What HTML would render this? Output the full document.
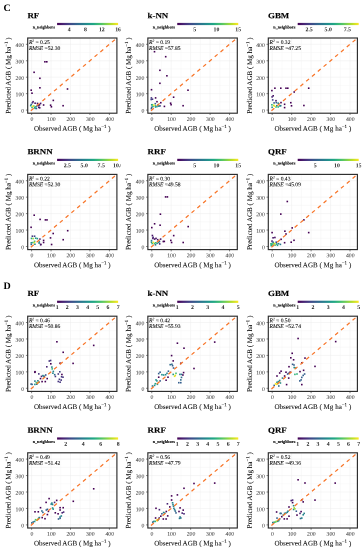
<!DOCTYPE html>
<html><head><meta charset="utf-8"><style>
html,body{margin:0;padding:0;background:#fff;}
svg{display:block;will-change:transform;filter:blur(0.25px);}
</style></head><body>
<svg width="362" height="550" viewBox="0 0 362 550">
<defs><linearGradient id="vir" x1="0" x2="1" y1="0" y2="0"><stop offset="0.0" stop-color="#440154"/><stop offset="0.1" stop-color="#482475"/><stop offset="0.2" stop-color="#414487"/><stop offset="0.3" stop-color="#355F8D"/><stop offset="0.4" stop-color="#2A788E"/><stop offset="0.5" stop-color="#21918C"/><stop offset="0.6" stop-color="#22A884"/><stop offset="0.7" stop-color="#44BF70"/><stop offset="0.8" stop-color="#7AD151"/><stop offset="0.9" stop-color="#BBDF27"/><stop offset="1.0" stop-color="#FDE725"/></linearGradient></defs>
<rect width="362" height="550" fill="#fff"/>
<g transform="rotate(0 181 275)">
<text font-family="Liberation Serif" font-size="10" font-weight="bold" transform="translate(3.60,10.90) rotate(0.05) ">C</text>
<text font-family="Liberation Serif" font-size="10" font-weight="bold" transform="translate(3.40,289.10) rotate(0.05) ">D</text>
<g stroke="#ececec" stroke-width="0.5"><line x1="31.60" y1="38.00" x2="31.60" y2="113.20"/><line x1="27.70" y1="110.10" x2="116.90" y2="110.10"/><line x1="51.05" y1="38.00" x2="51.05" y2="113.20"/><line x1="27.70" y1="93.65" x2="116.90" y2="93.65"/><line x1="70.50" y1="38.00" x2="70.50" y2="113.20"/><line x1="27.70" y1="77.20" x2="116.90" y2="77.20"/><line x1="89.95" y1="38.00" x2="89.95" y2="113.20"/><line x1="27.70" y1="60.75" x2="116.90" y2="60.75"/><line x1="109.40" y1="38.00" x2="109.40" y2="113.20"/><line x1="27.70" y1="44.30" x2="116.90" y2="44.30"/></g><g stroke="#f4f4f4" stroke-width="0.45"><line x1="41.32" y1="38.00" x2="41.32" y2="113.20"/><line x1="27.70" y1="101.88" x2="116.90" y2="101.88"/><line x1="60.77" y1="38.00" x2="60.77" y2="113.20"/><line x1="27.70" y1="85.42" x2="116.90" y2="85.42"/><line x1="80.22" y1="38.00" x2="80.22" y2="113.20"/><line x1="27.70" y1="68.97" x2="116.90" y2="68.97"/><line x1="99.67" y1="38.00" x2="99.67" y2="113.20"/><line x1="27.70" y1="52.52" x2="116.90" y2="52.52"/></g><rect x="44.10" y="61.00" width="1.6" height="1.6" fill="#440154"/><rect x="46.00" y="61.00" width="1.6" height="1.6" fill="#440154"/><rect x="33.30" y="71.50" width="1.6" height="1.6" fill="#440154"/><rect x="39.10" y="77.50" width="1.6" height="1.6" fill="#440154"/><rect x="39.10" y="87.00" width="1.6" height="1.6" fill="#440154"/><rect x="30.40" y="89.40" width="1.6" height="1.6" fill="#440154"/><rect x="31.20" y="92.40" width="1.6" height="1.6" fill="#440154"/><rect x="66.70" y="88.20" width="1.6" height="1.6" fill="#440154"/><rect x="52.50" y="99.60" width="1.6" height="1.6" fill="#440154"/><rect x="42.80" y="104.20" width="1.6" height="1.6" fill="#440154"/><rect x="49.80" y="104.40" width="1.6" height="1.6" fill="#440154"/><rect x="50.60" y="106.00" width="1.6" height="1.6" fill="#440154"/><rect x="62.30" y="104.90" width="1.6" height="1.6" fill="#440154"/><rect x="32.30" y="100.90" width="1.6" height="1.6" fill="#461264"/><rect x="31.60" y="102.00" width="1.6" height="1.6" fill="#44347e"/><rect x="34.30" y="102.40" width="1.6" height="1.6" fill="#461264"/><rect x="36.70" y="102.60" width="1.6" height="1.6" fill="#461264"/><rect x="39.80" y="102.60" width="1.6" height="1.6" fill="#461264"/><rect x="30.50" y="103.70" width="1.6" height="1.6" fill="#355f8d"/><rect x="29.90" y="104.80" width="1.6" height="1.6" fill="#21918c"/><rect x="33.00" y="105.20" width="1.6" height="1.6" fill="#7ad151"/><rect x="31.20" y="106.60" width="1.6" height="1.6" fill="#28ac80"/><rect x="33.80" y="106.60" width="1.6" height="1.6" fill="#33b37a"/><rect x="35.20" y="105.90" width="1.6" height="1.6" fill="#21918c"/><rect x="36.50" y="104.80" width="1.6" height="1.6" fill="#44347e"/><rect x="38.00" y="104.80" width="1.6" height="1.6" fill="#44347e"/><rect x="38.70" y="104.00" width="1.6" height="1.6" fill="#461264"/><rect x="38.00" y="106.60" width="1.6" height="1.6" fill="#461264"/><rect x="38.90" y="107.00" width="1.6" height="1.6" fill="#461264"/><rect x="35.60" y="107.70" width="1.6" height="1.6" fill="#355f8d"/><rect x="34.30" y="107.50" width="1.6" height="1.6" fill="#21918c"/><rect x="31.80" y="105.50" width="1.6" height="1.6" fill="#FDE725"/><clipPath id="cp0"><rect x="27.70" y="38.00" width="89.20" height="75.20"/></clipPath><line clip-path="url(#cp0)" x1="27.70" y1="113.40" x2="116.90" y2="37.96" stroke="#F8762A" stroke-width="1.25" stroke-dasharray="3.8 3.79" stroke-dashoffset="3.49"/><rect x="27.70" y="38.00" width="89.20" height="75.20" fill="none" stroke="#2b2b2b" stroke-width="1.15"/><g stroke="#333" stroke-width="0.6"><line x1="31.60" y1="113.20" x2="31.60" y2="115.00"/><line x1="25.90" y1="110.10" x2="27.70" y2="110.10"/><line x1="51.05" y1="113.20" x2="51.05" y2="115.00"/><line x1="25.90" y1="93.65" x2="27.70" y2="93.65"/><line x1="70.50" y1="113.20" x2="70.50" y2="115.00"/><line x1="25.90" y1="77.20" x2="27.70" y2="77.20"/><line x1="89.95" y1="113.20" x2="89.95" y2="115.00"/><line x1="25.90" y1="60.75" x2="27.70" y2="60.75"/><line x1="109.40" y1="113.20" x2="109.40" y2="115.00"/><line x1="25.90" y1="44.30" x2="27.70" y2="44.30"/></g><g font-family="Liberation Serif" font-size="5.75" fill="#444" stroke="#444" stroke-width="0.05"><text transform="translate(31.90,120.90) rotate(0.05) " text-anchor="middle">0</text><text transform="translate(24.20,112.80) rotate(0.05) " text-anchor="end">0</text><text transform="translate(51.35,120.90) rotate(0.05) " text-anchor="middle">100</text><text transform="translate(24.20,96.35) rotate(0.05) " text-anchor="end">100</text><text transform="translate(70.80,120.90) rotate(0.05) " text-anchor="middle">200</text><text transform="translate(24.20,79.90) rotate(0.05) " text-anchor="end">200</text><text transform="translate(90.25,120.90) rotate(0.05) " text-anchor="middle">300</text><text transform="translate(24.20,63.45) rotate(0.05) " text-anchor="end">300</text><text transform="translate(109.70,120.90) rotate(0.05) " text-anchor="middle">400</text><text transform="translate(24.20,47.00) rotate(0.05) " text-anchor="end">400</text></g><text font-family="Liberation Serif" font-size="7.05" transform="translate(72.30,130.80) rotate(0.05) scale(1,1.0)" text-anchor="middle" fill="#000" stroke="#000" stroke-width="0.05">Observed AGB ( Mg ha<tspan font-size="5" dy="-2.8">&#8722;1</tspan><tspan dy="2.8"> )</tspan></text><text font-family="Liberation Serif" font-size="7.05" transform="translate(10.50,75.50) rotate(-89.95) scale(1,1.0)" text-anchor="middle" fill="#000" stroke="#000" stroke-width="0.05">Predicted AGB ( Mg ha<tspan font-size="5" dy="-2.8">&#8722;1</tspan><tspan dy="2.8"> )</tspan></text><text font-family="Liberation Serif" font-size="5.6" font-style="italic" transform="translate(28.90,44.10) rotate(0.05) " fill="#000" stroke="#000" stroke-width="0.06">R<tspan font-size="3.6" dy="-2.0">2</tspan><tspan font-style="normal" dy="2.0"> = 0.25</tspan></text><text font-family="Liberation Serif" font-size="5.6" transform="translate(28.90,49.90) rotate(0.05) " fill="#000" stroke="#000" stroke-width="0.06"><tspan font-style="italic">RMSE</tspan> =52.30</text><text font-family="Liberation Serif" font-size="8.4" font-weight="bold" transform="translate(27.40,18.30) rotate(0.05) scale(1.06,0.95)" fill="#000" stroke="#000" stroke-width="0.15">RF</text><text font-family="Liberation Serif" font-size="4.2" font-weight="bold" transform="translate(32.70,28.60) rotate(0.05) " fill="#000" stroke="#000" stroke-width="0.1">n_neighbors</text><rect x="57.10" y="22.90" width="61.00" height="2.2" fill="url(#vir)"/><clipPath id="lc0"><rect x="27.70" y="26.00" width="93" height="8"/></clipPath><g clip-path="url(#lc0)" font-family="Liberation Serif" font-size="5.8" font-weight="bold" fill="#222"><text transform="translate(69.30,31.30) rotate(0.05) " text-anchor="middle">4</text><text transform="translate(85.57,31.30) rotate(0.05) " text-anchor="middle">8</text><text transform="translate(101.83,31.30) rotate(0.05) " text-anchor="middle">12</text><text transform="translate(118.10,31.30) rotate(0.05) " text-anchor="middle">16</text></g><g stroke="#ececec" stroke-width="0.5"><line x1="151.75" y1="38.00" x2="151.75" y2="113.20"/><line x1="147.85" y1="110.10" x2="237.30" y2="110.10"/><line x1="171.20" y1="38.00" x2="171.20" y2="113.20"/><line x1="147.85" y1="93.65" x2="237.30" y2="93.65"/><line x1="190.65" y1="38.00" x2="190.65" y2="113.20"/><line x1="147.85" y1="77.20" x2="237.30" y2="77.20"/><line x1="210.10" y1="38.00" x2="210.10" y2="113.20"/><line x1="147.85" y1="60.75" x2="237.30" y2="60.75"/><line x1="229.55" y1="38.00" x2="229.55" y2="113.20"/><line x1="147.85" y1="44.30" x2="237.30" y2="44.30"/></g><g stroke="#f4f4f4" stroke-width="0.45"><line x1="161.47" y1="38.00" x2="161.47" y2="113.20"/><line x1="147.85" y1="101.88" x2="237.30" y2="101.88"/><line x1="180.93" y1="38.00" x2="180.93" y2="113.20"/><line x1="147.85" y1="85.42" x2="237.30" y2="85.42"/><line x1="200.38" y1="38.00" x2="200.38" y2="113.20"/><line x1="147.85" y1="68.97" x2="237.30" y2="68.97"/><line x1="219.82" y1="38.00" x2="219.82" y2="113.20"/><line x1="147.85" y1="52.52" x2="237.30" y2="52.52"/></g><rect x="153.70" y="50.90" width="1.6" height="1.6" fill="#440154"/><rect x="164.90" y="55.90" width="1.6" height="1.6" fill="#440154"/><rect x="159.10" y="69.50" width="1.6" height="1.6" fill="#440154"/><rect x="166.10" y="75.00" width="1.6" height="1.6" fill="#440154"/><rect x="159.10" y="82.50" width="1.6" height="1.6" fill="#440154"/><rect x="150.70" y="88.90" width="1.6" height="1.6" fill="#440154"/><rect x="187.20" y="89.40" width="1.6" height="1.6" fill="#440154"/><rect x="172.80" y="96.40" width="1.6" height="1.6" fill="#440154"/><rect x="154.80" y="97.10" width="1.6" height="1.6" fill="#440154"/><rect x="169.80" y="102.40" width="1.6" height="1.6" fill="#440154"/><rect x="170.30" y="103.90" width="1.6" height="1.6" fill="#440154"/><rect x="182.30" y="104.90" width="1.6" height="1.6" fill="#440154"/><rect x="163.60" y="105.60" width="1.6" height="1.6" fill="#440154"/><rect x="156.20" y="100.90" width="1.6" height="1.6" fill="#440154"/><rect x="160.00" y="101.90" width="1.6" height="1.6" fill="#440154"/><rect x="150.60" y="97.10" width="1.6" height="1.6" fill="#44347e"/><rect x="151.70" y="98.40" width="1.6" height="1.6" fill="#44347e"/><rect x="150.40" y="98.70" width="1.6" height="1.6" fill="#414487"/><rect x="154.50" y="102.90" width="1.6" height="1.6" fill="#355f8d"/><rect x="150.90" y="104.00" width="1.6" height="1.6" fill="#21918c"/><rect x="151.70" y="103.90" width="1.6" height="1.6" fill="#44bf70"/><rect x="154.50" y="105.10" width="1.6" height="1.6" fill="#44bf70"/><rect x="154.80" y="106.20" width="1.6" height="1.6" fill="#21918c"/><rect x="150.90" y="106.50" width="1.6" height="1.6" fill="#355f8d"/><rect x="157.20" y="104.20" width="1.6" height="1.6" fill="#21918c"/><rect x="159.20" y="105.10" width="1.6" height="1.6" fill="#414487"/><rect x="158.10" y="105.40" width="1.6" height="1.6" fill="#25848d"/><rect x="150.60" y="107.80" width="1.6" height="1.6" fill="#355f8d"/><rect x="152.20" y="105.70" width="1.6" height="1.6" fill="#22a884"/><rect x="156.20" y="105.70" width="1.6" height="1.6" fill="#219c88"/><rect x="153.10" y="104.50" width="1.6" height="1.6" fill="#FDE725"/><clipPath id="cp1"><rect x="147.85" y="38.00" width="89.45" height="75.20"/></clipPath><line clip-path="url(#cp1)" x1="147.85" y1="113.40" x2="237.30" y2="37.75" stroke="#F8762A" stroke-width="1.25" stroke-dasharray="3.8 3.79" stroke-dashoffset="3.49"/><rect x="147.85" y="38.00" width="89.45" height="75.20" fill="none" stroke="#2b2b2b" stroke-width="1.15"/><g stroke="#333" stroke-width="0.6"><line x1="151.75" y1="113.20" x2="151.75" y2="115.00"/><line x1="146.05" y1="110.10" x2="147.85" y2="110.10"/><line x1="171.20" y1="113.20" x2="171.20" y2="115.00"/><line x1="146.05" y1="93.65" x2="147.85" y2="93.65"/><line x1="190.65" y1="113.20" x2="190.65" y2="115.00"/><line x1="146.05" y1="77.20" x2="147.85" y2="77.20"/><line x1="210.10" y1="113.20" x2="210.10" y2="115.00"/><line x1="146.05" y1="60.75" x2="147.85" y2="60.75"/><line x1="229.55" y1="113.20" x2="229.55" y2="115.00"/><line x1="146.05" y1="44.30" x2="147.85" y2="44.30"/></g><g font-family="Liberation Serif" font-size="5.75" fill="#444" stroke="#444" stroke-width="0.05"><text transform="translate(152.05,120.90) rotate(0.05) " text-anchor="middle">0</text><text transform="translate(144.35,112.80) rotate(0.05) " text-anchor="end">0</text><text transform="translate(171.50,120.90) rotate(0.05) " text-anchor="middle">100</text><text transform="translate(144.35,96.35) rotate(0.05) " text-anchor="end">100</text><text transform="translate(190.95,120.90) rotate(0.05) " text-anchor="middle">200</text><text transform="translate(144.35,79.90) rotate(0.05) " text-anchor="end">200</text><text transform="translate(210.40,120.90) rotate(0.05) " text-anchor="middle">300</text><text transform="translate(144.35,63.45) rotate(0.05) " text-anchor="end">300</text><text transform="translate(229.85,120.90) rotate(0.05) " text-anchor="middle">400</text><text transform="translate(144.35,47.00) rotate(0.05) " text-anchor="end">400</text></g><text font-family="Liberation Serif" font-size="7.05" transform="translate(192.57,130.80) rotate(0.05) scale(1,1.0)" text-anchor="middle" fill="#000" stroke="#000" stroke-width="0.05">Observed AGB ( Mg ha<tspan font-size="5" dy="-2.8">&#8722;1</tspan><tspan dy="2.8"> )</tspan></text><text font-family="Liberation Serif" font-size="7.05" transform="translate(130.65,75.50) rotate(-89.95) scale(1,1.0)" text-anchor="middle" fill="#000" stroke="#000" stroke-width="0.05">Predicted AGB ( Mg ha<tspan font-size="5" dy="-2.8">&#8722;1</tspan><tspan dy="2.8"> )</tspan></text><text font-family="Liberation Serif" font-size="5.6" font-style="italic" transform="translate(149.05,44.10) rotate(0.05) " fill="#000" stroke="#000" stroke-width="0.06">R<tspan font-size="3.6" dy="-2.0">2</tspan><tspan font-style="normal" dy="2.0"> = 0.19</tspan></text><text font-family="Liberation Serif" font-size="5.6" transform="translate(149.05,49.90) rotate(0.05) " fill="#000" stroke="#000" stroke-width="0.06"><tspan font-style="italic">RMSE</tspan> =57.85</text><text font-family="Liberation Serif" font-size="8.4" font-weight="bold" transform="translate(147.55,18.30) rotate(0.05) scale(1.06,0.95)" fill="#000" stroke="#000" stroke-width="0.15">k-NN</text><text font-family="Liberation Serif" font-size="4.2" font-weight="bold" transform="translate(152.85,28.60) rotate(0.05) " fill="#000" stroke="#000" stroke-width="0.1">n_neighbors</text><rect x="177.25" y="22.90" width="61.00" height="2.2" fill="url(#vir)"/><clipPath id="lc1"><rect x="147.85" y="26.00" width="93" height="8"/></clipPath><g clip-path="url(#lc1)" font-family="Liberation Serif" font-size="5.8" font-weight="bold" fill="#222"><text transform="translate(194.68,31.30) rotate(0.05) " text-anchor="middle">5</text><text transform="translate(216.46,31.30) rotate(0.05) " text-anchor="middle">10</text><text transform="translate(238.25,31.30) rotate(0.05) " text-anchor="middle">15</text></g><g stroke="#ececec" stroke-width="0.5"><line x1="272.20" y1="38.00" x2="272.20" y2="113.20"/><line x1="268.30" y1="110.10" x2="357.40" y2="110.10"/><line x1="291.65" y1="38.00" x2="291.65" y2="113.20"/><line x1="268.30" y1="93.65" x2="357.40" y2="93.65"/><line x1="311.10" y1="38.00" x2="311.10" y2="113.20"/><line x1="268.30" y1="77.20" x2="357.40" y2="77.20"/><line x1="330.55" y1="38.00" x2="330.55" y2="113.20"/><line x1="268.30" y1="60.75" x2="357.40" y2="60.75"/><line x1="350.00" y1="38.00" x2="350.00" y2="113.20"/><line x1="268.30" y1="44.30" x2="357.40" y2="44.30"/></g><g stroke="#f4f4f4" stroke-width="0.45"><line x1="281.93" y1="38.00" x2="281.93" y2="113.20"/><line x1="268.30" y1="101.88" x2="357.40" y2="101.88"/><line x1="301.38" y1="38.00" x2="301.38" y2="113.20"/><line x1="268.30" y1="85.42" x2="357.40" y2="85.42"/><line x1="320.82" y1="38.00" x2="320.82" y2="113.20"/><line x1="268.30" y1="68.97" x2="357.40" y2="68.97"/><line x1="340.27" y1="38.00" x2="340.27" y2="113.20"/><line x1="268.30" y1="52.52" x2="357.40" y2="52.52"/></g><rect x="274.10" y="87.40" width="1.6" height="1.6" fill="#440154"/><rect x="280.00" y="87.40" width="1.6" height="1.6" fill="#440154"/><rect x="285.20" y="87.40" width="1.6" height="1.6" fill="#440154"/><rect x="287.00" y="87.40" width="1.6" height="1.6" fill="#440154"/><rect x="307.90" y="87.40" width="1.6" height="1.6" fill="#440154"/><rect x="271.10" y="89.80" width="1.6" height="1.6" fill="#440154"/><rect x="293.40" y="91.20" width="1.6" height="1.6" fill="#440154"/><rect x="272.40" y="95.00" width="1.6" height="1.6" fill="#461264"/><rect x="271.30" y="96.10" width="1.6" height="1.6" fill="#482475"/><rect x="283.80" y="103.50" width="1.6" height="1.6" fill="#440154"/><rect x="283.80" y="106.80" width="1.6" height="1.6" fill="#440154"/><rect x="290.00" y="101.90" width="1.6" height="1.6" fill="#440154"/><rect x="290.70" y="105.00" width="1.6" height="1.6" fill="#440154"/><rect x="303.10" y="104.70" width="1.6" height="1.6" fill="#440154"/><rect x="280.20" y="101.80" width="1.6" height="1.6" fill="#440154"/><rect x="275.20" y="99.90" width="1.6" height="1.6" fill="#461264"/><rect x="271.90" y="99.10" width="1.6" height="1.6" fill="#414487"/><rect x="273.30" y="102.10" width="1.6" height="1.6" fill="#355f8d"/><rect x="275.50" y="101.80" width="1.6" height="1.6" fill="#355f8d"/><rect x="277.40" y="102.40" width="1.6" height="1.6" fill="#25848d"/><rect x="271.10" y="104.00" width="1.6" height="1.6" fill="#33b37a"/><rect x="273.00" y="104.60" width="1.6" height="1.6" fill="#bbdf27"/><rect x="271.30" y="106.50" width="1.6" height="1.6" fill="#21918c"/><rect x="275.20" y="106.20" width="1.6" height="1.6" fill="#44bf70"/><rect x="277.40" y="106.20" width="1.6" height="1.6" fill="#3dba73"/><rect x="279.10" y="105.10" width="1.6" height="1.6" fill="#21918c"/><rect x="279.90" y="104.90" width="1.6" height="1.6" fill="#2a788e"/><rect x="276.00" y="104.90" width="1.6" height="1.6" fill="#21918c"/><rect x="273.80" y="105.40" width="1.6" height="1.6" fill="#FDE725"/><clipPath id="cp2"><rect x="268.30" y="38.00" width="89.10" height="75.20"/></clipPath><line clip-path="url(#cp2)" x1="268.30" y1="113.40" x2="357.40" y2="38.04" stroke="#F8762A" stroke-width="1.25" stroke-dasharray="3.8 3.79" stroke-dashoffset="3.49"/><rect x="268.30" y="38.00" width="89.10" height="75.20" fill="none" stroke="#2b2b2b" stroke-width="1.15"/><g stroke="#333" stroke-width="0.6"><line x1="272.20" y1="113.20" x2="272.20" y2="115.00"/><line x1="266.50" y1="110.10" x2="268.30" y2="110.10"/><line x1="291.65" y1="113.20" x2="291.65" y2="115.00"/><line x1="266.50" y1="93.65" x2="268.30" y2="93.65"/><line x1="311.10" y1="113.20" x2="311.10" y2="115.00"/><line x1="266.50" y1="77.20" x2="268.30" y2="77.20"/><line x1="330.55" y1="113.20" x2="330.55" y2="115.00"/><line x1="266.50" y1="60.75" x2="268.30" y2="60.75"/><line x1="350.00" y1="113.20" x2="350.00" y2="115.00"/><line x1="266.50" y1="44.30" x2="268.30" y2="44.30"/></g><g font-family="Liberation Serif" font-size="5.75" fill="#444" stroke="#444" stroke-width="0.05"><text transform="translate(272.50,120.90) rotate(0.05) " text-anchor="middle">0</text><text transform="translate(264.80,112.80) rotate(0.05) " text-anchor="end">0</text><text transform="translate(291.95,120.90) rotate(0.05) " text-anchor="middle">100</text><text transform="translate(264.80,96.35) rotate(0.05) " text-anchor="end">100</text><text transform="translate(311.40,120.90) rotate(0.05) " text-anchor="middle">200</text><text transform="translate(264.80,79.90) rotate(0.05) " text-anchor="end">200</text><text transform="translate(330.85,120.90) rotate(0.05) " text-anchor="middle">300</text><text transform="translate(264.80,63.45) rotate(0.05) " text-anchor="end">300</text><text transform="translate(350.30,120.90) rotate(0.05) " text-anchor="middle">400</text><text transform="translate(264.80,47.00) rotate(0.05) " text-anchor="end">400</text></g><text font-family="Liberation Serif" font-size="7.05" transform="translate(312.85,130.80) rotate(0.05) scale(1,1.0)" text-anchor="middle" fill="#000" stroke="#000" stroke-width="0.05">Observed AGB ( Mg ha<tspan font-size="5" dy="-2.8">&#8722;1</tspan><tspan dy="2.8"> )</tspan></text><text font-family="Liberation Serif" font-size="7.05" transform="translate(251.90,75.50) rotate(-89.95) scale(1,1.0)" text-anchor="middle" fill="#000" stroke="#000" stroke-width="0.05">Predicted AGB ( Mg ha<tspan font-size="5" dy="-2.8">&#8722;1</tspan><tspan dy="2.8"> )</tspan></text><text font-family="Liberation Serif" font-size="5.6" font-style="italic" transform="translate(269.50,44.10) rotate(0.05) " fill="#000" stroke="#000" stroke-width="0.06">R<tspan font-size="3.6" dy="-2.0">2</tspan><tspan font-style="normal" dy="2.0"> = 0.32</tspan></text><text font-family="Liberation Serif" font-size="5.6" transform="translate(269.50,49.90) rotate(0.05) " fill="#000" stroke="#000" stroke-width="0.06"><tspan font-style="italic">RMSE</tspan> =47.25</text><text font-family="Liberation Serif" font-size="8.4" font-weight="bold" transform="translate(268.00,18.30) rotate(0.05) scale(1.06,0.95)" fill="#000" stroke="#000" stroke-width="0.15">GBM</text><text font-family="Liberation Serif" font-size="4.2" font-weight="bold" transform="translate(273.30,28.60) rotate(0.05) " fill="#000" stroke="#000" stroke-width="0.1">n_neighbors</text><rect x="297.70" y="22.90" width="61.00" height="2.2" fill="url(#vir)"/><clipPath id="lc2"><rect x="268.30" y="26.00" width="93" height="8"/></clipPath><g clip-path="url(#lc2)" font-family="Liberation Serif" font-size="5.8" font-weight="bold" fill="#222"><text transform="translate(309.14,31.30) rotate(0.05) " text-anchor="middle">2.5</text><text transform="translate(328.20,31.30) rotate(0.05) " text-anchor="middle">5.0</text><text transform="translate(347.26,31.30) rotate(0.05) " text-anchor="middle">7.5</text></g><g stroke="#ececec" stroke-width="0.5"><line x1="31.60" y1="174.40" x2="31.60" y2="249.60"/><line x1="27.70" y1="246.50" x2="116.90" y2="246.50"/><line x1="51.05" y1="174.40" x2="51.05" y2="249.60"/><line x1="27.70" y1="230.05" x2="116.90" y2="230.05"/><line x1="70.50" y1="174.40" x2="70.50" y2="249.60"/><line x1="27.70" y1="213.60" x2="116.90" y2="213.60"/><line x1="89.95" y1="174.40" x2="89.95" y2="249.60"/><line x1="27.70" y1="197.15" x2="116.90" y2="197.15"/><line x1="109.40" y1="174.40" x2="109.40" y2="249.60"/><line x1="27.70" y1="180.70" x2="116.90" y2="180.70"/></g><g stroke="#f4f4f4" stroke-width="0.45"><line x1="41.32" y1="174.40" x2="41.32" y2="249.60"/><line x1="27.70" y1="238.28" x2="116.90" y2="238.28"/><line x1="60.77" y1="174.40" x2="60.77" y2="249.60"/><line x1="27.70" y1="221.82" x2="116.90" y2="221.82"/><line x1="80.22" y1="174.40" x2="80.22" y2="249.60"/><line x1="27.70" y1="205.38" x2="116.90" y2="205.38"/><line x1="99.67" y1="174.40" x2="99.67" y2="249.60"/><line x1="27.70" y1="188.93" x2="116.90" y2="188.93"/></g><rect x="33.40" y="214.40" width="1.6" height="1.6" fill="#440154"/><rect x="39.30" y="218.60" width="1.6" height="1.6" fill="#440154"/><rect x="44.60" y="219.10" width="1.6" height="1.6" fill="#440154"/><rect x="46.20" y="219.10" width="1.6" height="1.6" fill="#440154"/><rect x="30.30" y="226.50" width="1.6" height="1.6" fill="#440154"/><rect x="66.90" y="229.90" width="1.6" height="1.6" fill="#440154"/><rect x="52.40" y="232.70" width="1.6" height="1.6" fill="#440154"/><rect x="49.70" y="237.10" width="1.6" height="1.6" fill="#440154"/><rect x="62.40" y="238.90" width="1.6" height="1.6" fill="#440154"/><rect x="42.80" y="239.60" width="1.6" height="1.6" fill="#440154"/><rect x="42.80" y="241.70" width="1.6" height="1.6" fill="#440154"/><rect x="40.00" y="243.70" width="1.6" height="1.6" fill="#440154"/><rect x="50.80" y="243.70" width="1.6" height="1.6" fill="#440154"/><rect x="31.60" y="235.40" width="1.6" height="1.6" fill="#44347e"/><rect x="33.80" y="235.40" width="1.6" height="1.6" fill="#414487"/><rect x="30.70" y="237.60" width="1.6" height="1.6" fill="#22a884"/><rect x="34.90" y="237.40" width="1.6" height="1.6" fill="#219c88"/><rect x="36.50" y="237.80" width="1.6" height="1.6" fill="#21918c"/><rect x="39.10" y="238.30" width="1.6" height="1.6" fill="#482475"/><rect x="30.50" y="242.00" width="1.6" height="1.6" fill="#21918c"/><rect x="32.10" y="241.80" width="1.6" height="1.6" fill="#33b37a"/><rect x="33.80" y="240.50" width="1.6" height="1.6" fill="#44bf70"/><rect x="38.50" y="241.20" width="1.6" height="1.6" fill="#25848d"/><rect x="38.30" y="242.30" width="1.6" height="1.6" fill="#25848d"/><rect x="30.50" y="243.60" width="1.6" height="1.6" fill="#355f8d"/><rect x="34.10" y="243.40" width="1.6" height="1.6" fill="#21918c"/><rect x="39.80" y="243.80" width="1.6" height="1.6" fill="#461264"/><rect x="32.30" y="237.80" width="1.6" height="1.6" fill="#9ad83c"/><rect x="33.60" y="241.80" width="1.6" height="1.6" fill="#dce326"/><clipPath id="cp3"><rect x="27.70" y="174.40" width="89.20" height="75.20"/></clipPath><line clip-path="url(#cp3)" x1="27.70" y1="249.80" x2="116.90" y2="174.36" stroke="#F8762A" stroke-width="1.25" stroke-dasharray="3.8 3.79" stroke-dashoffset="3.49"/><rect x="27.70" y="174.40" width="89.20" height="75.20" fill="none" stroke="#2b2b2b" stroke-width="1.15"/><g stroke="#333" stroke-width="0.6"><line x1="31.60" y1="249.60" x2="31.60" y2="251.40"/><line x1="25.90" y1="246.50" x2="27.70" y2="246.50"/><line x1="51.05" y1="249.60" x2="51.05" y2="251.40"/><line x1="25.90" y1="230.05" x2="27.70" y2="230.05"/><line x1="70.50" y1="249.60" x2="70.50" y2="251.40"/><line x1="25.90" y1="213.60" x2="27.70" y2="213.60"/><line x1="89.95" y1="249.60" x2="89.95" y2="251.40"/><line x1="25.90" y1="197.15" x2="27.70" y2="197.15"/><line x1="109.40" y1="249.60" x2="109.40" y2="251.40"/><line x1="25.90" y1="180.70" x2="27.70" y2="180.70"/></g><g font-family="Liberation Serif" font-size="5.75" fill="#444" stroke="#444" stroke-width="0.05"><text transform="translate(31.90,257.30) rotate(0.05) " text-anchor="middle">0</text><text transform="translate(24.20,249.20) rotate(0.05) " text-anchor="end">0</text><text transform="translate(51.35,257.30) rotate(0.05) " text-anchor="middle">100</text><text transform="translate(24.20,232.75) rotate(0.05) " text-anchor="end">100</text><text transform="translate(70.80,257.30) rotate(0.05) " text-anchor="middle">200</text><text transform="translate(24.20,216.30) rotate(0.05) " text-anchor="end">200</text><text transform="translate(90.25,257.30) rotate(0.05) " text-anchor="middle">300</text><text transform="translate(24.20,199.85) rotate(0.05) " text-anchor="end">300</text><text transform="translate(109.70,257.30) rotate(0.05) " text-anchor="middle">400</text><text transform="translate(24.20,183.40) rotate(0.05) " text-anchor="end">400</text></g><text font-family="Liberation Serif" font-size="7.05" transform="translate(72.30,267.20) rotate(0.05) scale(1,1.0)" text-anchor="middle" fill="#000" stroke="#000" stroke-width="0.05">Observed AGB ( Mg ha<tspan font-size="5" dy="-2.8">&#8722;1</tspan><tspan dy="2.8"> )</tspan></text><text font-family="Liberation Serif" font-size="7.05" transform="translate(10.50,211.90) rotate(-89.95) scale(1,1.0)" text-anchor="middle" fill="#000" stroke="#000" stroke-width="0.05">Predicted AGB ( Mg ha<tspan font-size="5" dy="-2.8">&#8722;1</tspan><tspan dy="2.8"> )</tspan></text><text font-family="Liberation Serif" font-size="5.6" font-style="italic" transform="translate(28.90,180.50) rotate(0.05) " fill="#000" stroke="#000" stroke-width="0.06">R<tspan font-size="3.6" dy="-2.0">2</tspan><tspan font-style="normal" dy="2.0"> = 0.22</tspan></text><text font-family="Liberation Serif" font-size="5.6" transform="translate(28.90,186.30) rotate(0.05) " fill="#000" stroke="#000" stroke-width="0.06"><tspan font-style="italic">RMSE</tspan> =52.30</text><text font-family="Liberation Serif" font-size="8.4" font-weight="bold" transform="translate(27.40,154.20) rotate(0.05) scale(1.06,0.95)" fill="#000" stroke="#000" stroke-width="0.15">BRNN</text><text font-family="Liberation Serif" font-size="4.2" font-weight="bold" transform="translate(32.70,164.50) rotate(0.05) " fill="#000" stroke="#000" stroke-width="0.1">n_neighbors</text><rect x="57.10" y="158.80" width="61.00" height="2.2" fill="url(#vir)"/><clipPath id="lc3"><rect x="27.70" y="161.90" width="93" height="8"/></clipPath><g clip-path="url(#lc3)" font-family="Liberation Serif" font-size="5.8" font-weight="bold" fill="#222"><text transform="translate(67.27,167.20) rotate(0.05) " text-anchor="middle">2.5</text><text transform="translate(84.21,167.20) rotate(0.05) " text-anchor="middle">5.0</text><text transform="translate(101.16,167.20) rotate(0.05) " text-anchor="middle">7.5</text><text transform="translate(118.10,167.20) rotate(0.05) " text-anchor="middle">10.0</text></g><g stroke="#ececec" stroke-width="0.5"><line x1="151.75" y1="174.40" x2="151.75" y2="249.60"/><line x1="147.85" y1="246.50" x2="237.30" y2="246.50"/><line x1="171.20" y1="174.40" x2="171.20" y2="249.60"/><line x1="147.85" y1="230.05" x2="237.30" y2="230.05"/><line x1="190.65" y1="174.40" x2="190.65" y2="249.60"/><line x1="147.85" y1="213.60" x2="237.30" y2="213.60"/><line x1="210.10" y1="174.40" x2="210.10" y2="249.60"/><line x1="147.85" y1="197.15" x2="237.30" y2="197.15"/><line x1="229.55" y1="174.40" x2="229.55" y2="249.60"/><line x1="147.85" y1="180.70" x2="237.30" y2="180.70"/></g><g stroke="#f4f4f4" stroke-width="0.45"><line x1="161.47" y1="174.40" x2="161.47" y2="249.60"/><line x1="147.85" y1="238.28" x2="237.30" y2="238.28"/><line x1="180.93" y1="174.40" x2="180.93" y2="249.60"/><line x1="147.85" y1="221.82" x2="237.30" y2="221.82"/><line x1="200.38" y1="174.40" x2="200.38" y2="249.60"/><line x1="147.85" y1="205.38" x2="237.30" y2="205.38"/><line x1="219.82" y1="174.40" x2="219.82" y2="249.60"/><line x1="147.85" y1="188.93" x2="237.30" y2="188.93"/></g><rect x="164.80" y="196.10" width="1.6" height="1.6" fill="#440154"/><rect x="166.60" y="196.10" width="1.6" height="1.6" fill="#440154"/><rect x="159.60" y="213.40" width="1.6" height="1.6" fill="#440154"/><rect x="153.80" y="223.00" width="1.6" height="1.6" fill="#440154"/><rect x="159.30" y="224.40" width="1.6" height="1.6" fill="#440154"/><rect x="151.00" y="226.80" width="1.6" height="1.6" fill="#440154"/><rect x="187.40" y="225.80" width="1.6" height="1.6" fill="#440154"/><rect x="172.90" y="234.80" width="1.6" height="1.6" fill="#440154"/><rect x="163.50" y="240.60" width="1.6" height="1.6" fill="#440154"/><rect x="170.00" y="239.60" width="1.6" height="1.6" fill="#440154"/><rect x="170.80" y="241.70" width="1.6" height="1.6" fill="#440154"/><rect x="182.40" y="241.70" width="1.6" height="1.6" fill="#440154"/><rect x="151.60" y="234.70" width="1.6" height="1.6" fill="#461264"/><rect x="152.30" y="236.50" width="1.6" height="1.6" fill="#462a78"/><rect x="152.10" y="237.60" width="1.6" height="1.6" fill="#461264"/><rect x="153.80" y="238.30" width="1.6" height="1.6" fill="#461264"/><rect x="155.20" y="237.60" width="1.6" height="1.6" fill="#461264"/><rect x="156.90" y="238.90" width="1.6" height="1.6" fill="#461264"/><rect x="159.80" y="238.30" width="1.6" height="1.6" fill="#461264"/><rect x="150.70" y="239.80" width="1.6" height="1.6" fill="#2a788e"/><rect x="150.70" y="241.40" width="1.6" height="1.6" fill="#21918c"/><rect x="151.40" y="242.70" width="1.6" height="1.6" fill="#33b37a"/><rect x="153.60" y="242.70" width="1.6" height="1.6" fill="#44bf70"/><rect x="154.90" y="242.00" width="1.6" height="1.6" fill="#3dba73"/><rect x="156.30" y="242.50" width="1.6" height="1.6" fill="#21918c"/><rect x="157.80" y="241.60" width="1.6" height="1.6" fill="#21918c"/><rect x="158.70" y="240.70" width="1.6" height="1.6" fill="#355f8d"/><rect x="158.90" y="243.10" width="1.6" height="1.6" fill="#482475"/><rect x="154.70" y="244.00" width="1.6" height="1.6" fill="#2a788e"/><rect x="162.50" y="240.70" width="1.6" height="1.6" fill="#440154"/><rect x="152.50" y="241.60" width="1.6" height="1.6" fill="#FDE725"/><clipPath id="cp4"><rect x="147.85" y="174.40" width="89.45" height="75.20"/></clipPath><line clip-path="url(#cp4)" x1="147.85" y1="249.80" x2="237.30" y2="174.15" stroke="#F8762A" stroke-width="1.25" stroke-dasharray="3.8 3.79" stroke-dashoffset="3.49"/><rect x="147.85" y="174.40" width="89.45" height="75.20" fill="none" stroke="#2b2b2b" stroke-width="1.15"/><g stroke="#333" stroke-width="0.6"><line x1="151.75" y1="249.60" x2="151.75" y2="251.40"/><line x1="146.05" y1="246.50" x2="147.85" y2="246.50"/><line x1="171.20" y1="249.60" x2="171.20" y2="251.40"/><line x1="146.05" y1="230.05" x2="147.85" y2="230.05"/><line x1="190.65" y1="249.60" x2="190.65" y2="251.40"/><line x1="146.05" y1="213.60" x2="147.85" y2="213.60"/><line x1="210.10" y1="249.60" x2="210.10" y2="251.40"/><line x1="146.05" y1="197.15" x2="147.85" y2="197.15"/><line x1="229.55" y1="249.60" x2="229.55" y2="251.40"/><line x1="146.05" y1="180.70" x2="147.85" y2="180.70"/></g><g font-family="Liberation Serif" font-size="5.75" fill="#444" stroke="#444" stroke-width="0.05"><text transform="translate(152.05,257.30) rotate(0.05) " text-anchor="middle">0</text><text transform="translate(144.35,249.20) rotate(0.05) " text-anchor="end">0</text><text transform="translate(171.50,257.30) rotate(0.05) " text-anchor="middle">100</text><text transform="translate(144.35,232.75) rotate(0.05) " text-anchor="end">100</text><text transform="translate(190.95,257.30) rotate(0.05) " text-anchor="middle">200</text><text transform="translate(144.35,216.30) rotate(0.05) " text-anchor="end">200</text><text transform="translate(210.40,257.30) rotate(0.05) " text-anchor="middle">300</text><text transform="translate(144.35,199.85) rotate(0.05) " text-anchor="end">300</text><text transform="translate(229.85,257.30) rotate(0.05) " text-anchor="middle">400</text><text transform="translate(144.35,183.40) rotate(0.05) " text-anchor="end">400</text></g><text font-family="Liberation Serif" font-size="7.05" transform="translate(192.57,267.20) rotate(0.05) scale(1,1.0)" text-anchor="middle" fill="#000" stroke="#000" stroke-width="0.05">Observed AGB ( Mg ha<tspan font-size="5" dy="-2.8">&#8722;1</tspan><tspan dy="2.8"> )</tspan></text><text font-family="Liberation Serif" font-size="7.05" transform="translate(130.65,211.90) rotate(-89.95) scale(1,1.0)" text-anchor="middle" fill="#000" stroke="#000" stroke-width="0.05">Predicted AGB ( Mg ha<tspan font-size="5" dy="-2.8">&#8722;1</tspan><tspan dy="2.8"> )</tspan></text><text font-family="Liberation Serif" font-size="5.6" font-style="italic" transform="translate(149.05,180.50) rotate(0.05) " fill="#000" stroke="#000" stroke-width="0.06">R<tspan font-size="3.6" dy="-2.0">2</tspan><tspan font-style="normal" dy="2.0"> = 0.30</tspan></text><text font-family="Liberation Serif" font-size="5.6" transform="translate(149.05,186.30) rotate(0.05) " fill="#000" stroke="#000" stroke-width="0.06"><tspan font-style="italic">RMSE</tspan> =49.58</text><text font-family="Liberation Serif" font-size="8.4" font-weight="bold" transform="translate(147.55,154.20) rotate(0.05) scale(1.06,0.95)" fill="#000" stroke="#000" stroke-width="0.15">RRF</text><text font-family="Liberation Serif" font-size="4.2" font-weight="bold" transform="translate(152.85,164.50) rotate(0.05) " fill="#000" stroke="#000" stroke-width="0.1">n_neighbors</text><rect x="177.25" y="158.80" width="61.00" height="2.2" fill="url(#vir)"/><clipPath id="lc4"><rect x="147.85" y="161.90" width="93" height="8"/></clipPath><g clip-path="url(#lc4)" font-family="Liberation Serif" font-size="5.8" font-weight="bold" fill="#222"><text transform="translate(194.68,167.20) rotate(0.05) " text-anchor="middle">5</text><text transform="translate(216.46,167.20) rotate(0.05) " text-anchor="middle">10</text><text transform="translate(238.25,167.20) rotate(0.05) " text-anchor="middle">15</text></g><g stroke="#ececec" stroke-width="0.5"><line x1="272.20" y1="174.40" x2="272.20" y2="249.60"/><line x1="268.30" y1="246.50" x2="357.40" y2="246.50"/><line x1="291.65" y1="174.40" x2="291.65" y2="249.60"/><line x1="268.30" y1="230.05" x2="357.40" y2="230.05"/><line x1="311.10" y1="174.40" x2="311.10" y2="249.60"/><line x1="268.30" y1="213.60" x2="357.40" y2="213.60"/><line x1="330.55" y1="174.40" x2="330.55" y2="249.60"/><line x1="268.30" y1="197.15" x2="357.40" y2="197.15"/><line x1="350.00" y1="174.40" x2="350.00" y2="249.60"/><line x1="268.30" y1="180.70" x2="357.40" y2="180.70"/></g><g stroke="#f4f4f4" stroke-width="0.45"><line x1="281.93" y1="174.40" x2="281.93" y2="249.60"/><line x1="268.30" y1="238.28" x2="357.40" y2="238.28"/><line x1="301.38" y1="174.40" x2="301.38" y2="249.60"/><line x1="268.30" y1="221.82" x2="357.40" y2="221.82"/><line x1="320.82" y1="174.40" x2="320.82" y2="249.60"/><line x1="268.30" y1="205.38" x2="357.40" y2="205.38"/><line x1="340.27" y1="174.40" x2="340.27" y2="249.60"/><line x1="268.30" y1="188.93" x2="357.40" y2="188.93"/></g><rect x="286.50" y="200.70" width="1.6" height="1.6" fill="#440154"/><rect x="280.00" y="213.30" width="1.6" height="1.6" fill="#440154"/><rect x="303.10" y="219.10" width="1.6" height="1.6" fill="#440154"/><rect x="291.40" y="227.10" width="1.6" height="1.6" fill="#440154"/><rect x="284.10" y="230.40" width="1.6" height="1.6" fill="#440154"/><rect x="271.30" y="231.80" width="1.6" height="1.6" fill="#440154"/><rect x="307.90" y="231.80" width="1.6" height="1.6" fill="#440154"/><rect x="285.20" y="233.20" width="1.6" height="1.6" fill="#440154"/><rect x="272.30" y="237.00" width="1.6" height="1.6" fill="#461264"/><rect x="274.10" y="236.70" width="1.6" height="1.6" fill="#461264"/><rect x="280.30" y="238.50" width="1.6" height="1.6" fill="#440154"/><rect x="293.20" y="239.50" width="1.6" height="1.6" fill="#440154"/><rect x="290.40" y="241.40" width="1.6" height="1.6" fill="#440154"/><rect x="283.80" y="241.90" width="1.6" height="1.6" fill="#440154"/><rect x="271.20" y="240.30" width="1.6" height="1.6" fill="#482475"/><rect x="272.30" y="241.40" width="1.6" height="1.6" fill="#355f8d"/><rect x="275.40" y="241.40" width="1.6" height="1.6" fill="#414487"/><rect x="271.20" y="242.70" width="1.6" height="1.6" fill="#33b37a"/><rect x="271.20" y="244.00" width="1.6" height="1.6" fill="#33b37a"/><rect x="273.00" y="242.90" width="1.6" height="1.6" fill="#7ad151"/><rect x="276.00" y="243.20" width="1.6" height="1.6" fill="#21918c"/><rect x="277.80" y="242.90" width="1.6" height="1.6" fill="#25848d"/><rect x="279.60" y="243.60" width="1.6" height="1.6" fill="#2a788e"/><rect x="274.30" y="244.30" width="1.6" height="1.6" fill="#44bf70"/><rect x="274.10" y="242.70" width="1.6" height="1.6" fill="#bbdf27"/><rect x="270.10" y="243.10" width="1.6" height="1.6" fill="#28ac80"/><rect x="270.40" y="244.80" width="1.6" height="1.6" fill="#22a884"/><rect x="272.40" y="244.60" width="1.6" height="1.6" fill="#44bf70"/><rect x="276.70" y="244.50" width="1.6" height="1.6" fill="#219c88"/><clipPath id="cp5"><rect x="268.30" y="174.40" width="89.10" height="75.20"/></clipPath><line clip-path="url(#cp5)" x1="268.30" y1="249.80" x2="357.40" y2="174.44" stroke="#F8762A" stroke-width="1.25" stroke-dasharray="3.8 3.79" stroke-dashoffset="3.49"/><rect x="268.30" y="174.40" width="89.10" height="75.20" fill="none" stroke="#2b2b2b" stroke-width="1.15"/><g stroke="#333" stroke-width="0.6"><line x1="272.20" y1="249.60" x2="272.20" y2="251.40"/><line x1="266.50" y1="246.50" x2="268.30" y2="246.50"/><line x1="291.65" y1="249.60" x2="291.65" y2="251.40"/><line x1="266.50" y1="230.05" x2="268.30" y2="230.05"/><line x1="311.10" y1="249.60" x2="311.10" y2="251.40"/><line x1="266.50" y1="213.60" x2="268.30" y2="213.60"/><line x1="330.55" y1="249.60" x2="330.55" y2="251.40"/><line x1="266.50" y1="197.15" x2="268.30" y2="197.15"/><line x1="350.00" y1="249.60" x2="350.00" y2="251.40"/><line x1="266.50" y1="180.70" x2="268.30" y2="180.70"/></g><g font-family="Liberation Serif" font-size="5.75" fill="#444" stroke="#444" stroke-width="0.05"><text transform="translate(272.50,257.30) rotate(0.05) " text-anchor="middle">0</text><text transform="translate(264.80,249.20) rotate(0.05) " text-anchor="end">0</text><text transform="translate(291.95,257.30) rotate(0.05) " text-anchor="middle">100</text><text transform="translate(264.80,232.75) rotate(0.05) " text-anchor="end">100</text><text transform="translate(311.40,257.30) rotate(0.05) " text-anchor="middle">200</text><text transform="translate(264.80,216.30) rotate(0.05) " text-anchor="end">200</text><text transform="translate(330.85,257.30) rotate(0.05) " text-anchor="middle">300</text><text transform="translate(264.80,199.85) rotate(0.05) " text-anchor="end">300</text><text transform="translate(350.30,257.30) rotate(0.05) " text-anchor="middle">400</text><text transform="translate(264.80,183.40) rotate(0.05) " text-anchor="end">400</text></g><text font-family="Liberation Serif" font-size="7.05" transform="translate(312.85,267.20) rotate(0.05) scale(1,1.0)" text-anchor="middle" fill="#000" stroke="#000" stroke-width="0.05">Observed AGB ( Mg ha<tspan font-size="5" dy="-2.8">&#8722;1</tspan><tspan dy="2.8"> )</tspan></text><text font-family="Liberation Serif" font-size="7.05" transform="translate(251.90,211.90) rotate(-89.95) scale(1,1.0)" text-anchor="middle" fill="#000" stroke="#000" stroke-width="0.05">Predicted AGB ( Mg ha<tspan font-size="5" dy="-2.8">&#8722;1</tspan><tspan dy="2.8"> )</tspan></text><text font-family="Liberation Serif" font-size="5.6" font-style="italic" transform="translate(269.50,180.50) rotate(0.05) " fill="#000" stroke="#000" stroke-width="0.06">R<tspan font-size="3.6" dy="-2.0">2</tspan><tspan font-style="normal" dy="2.0"> = 0.43</tspan></text><text font-family="Liberation Serif" font-size="5.6" transform="translate(269.50,186.30) rotate(0.05) " fill="#000" stroke="#000" stroke-width="0.06"><tspan font-style="italic">RMSE</tspan> =45.09</text><text font-family="Liberation Serif" font-size="8.4" font-weight="bold" transform="translate(268.00,154.20) rotate(0.05) scale(1.06,0.95)" fill="#000" stroke="#000" stroke-width="0.15">QRF</text><text font-family="Liberation Serif" font-size="4.2" font-weight="bold" transform="translate(273.30,164.50) rotate(0.05) " fill="#000" stroke="#000" stroke-width="0.1">n_neighbors</text><rect x="297.70" y="158.80" width="61.00" height="2.2" fill="url(#vir)"/><clipPath id="lc5"><rect x="268.30" y="161.90" width="93" height="8"/></clipPath><g clip-path="url(#lc5)" font-family="Liberation Serif" font-size="5.8" font-weight="bold" fill="#222"><text transform="translate(315.13,167.20) rotate(0.05) " text-anchor="middle">5</text><text transform="translate(336.91,167.20) rotate(0.05) " text-anchor="middle">10</text><text transform="translate(358.70,167.20) rotate(0.05) " text-anchor="middle">15</text></g><g stroke="#ececec" stroke-width="0.5"><line x1="31.60" y1="316.20" x2="31.60" y2="391.40"/><line x1="27.70" y1="388.30" x2="116.90" y2="388.30"/><line x1="51.05" y1="316.20" x2="51.05" y2="391.40"/><line x1="27.70" y1="371.85" x2="116.90" y2="371.85"/><line x1="70.50" y1="316.20" x2="70.50" y2="391.40"/><line x1="27.70" y1="355.40" x2="116.90" y2="355.40"/><line x1="89.95" y1="316.20" x2="89.95" y2="391.40"/><line x1="27.70" y1="338.95" x2="116.90" y2="338.95"/><line x1="109.40" y1="316.20" x2="109.40" y2="391.40"/><line x1="27.70" y1="322.50" x2="116.90" y2="322.50"/></g><g stroke="#f4f4f4" stroke-width="0.45"><line x1="41.32" y1="316.20" x2="41.32" y2="391.40"/><line x1="27.70" y1="380.07" x2="116.90" y2="380.07"/><line x1="60.77" y1="316.20" x2="60.77" y2="391.40"/><line x1="27.70" y1="363.62" x2="116.90" y2="363.62"/><line x1="80.22" y1="316.20" x2="80.22" y2="391.40"/><line x1="27.70" y1="347.17" x2="116.90" y2="347.17"/><line x1="99.67" y1="316.20" x2="99.67" y2="391.40"/><line x1="27.70" y1="330.72" x2="116.90" y2="330.72"/></g><rect x="56.10" y="341.00" width="1.6" height="1.6" fill="#440154"/><rect x="92.90" y="344.60" width="1.6" height="1.6" fill="#440154"/><rect x="62.40" y="351.50" width="1.6" height="1.6" fill="#440154"/><rect x="72.30" y="362.60" width="1.6" height="1.6" fill="#440154"/><rect x="59.30" y="362.40" width="1.6" height="1.6" fill="#440154"/><rect x="48.50" y="360.20" width="1.6" height="1.6" fill="#44347e"/><rect x="49.80" y="359.70" width="1.6" height="1.6" fill="#44347e"/><rect x="50.00" y="363.00" width="1.6" height="1.6" fill="#440154"/><rect x="46.00" y="366.00" width="1.6" height="1.6" fill="#482475"/><rect x="51.10" y="366.30" width="1.6" height="1.6" fill="#25848d"/><rect x="51.40" y="368.10" width="1.6" height="1.6" fill="#33b37a"/><rect x="52.50" y="370.60" width="1.6" height="1.6" fill="#25848d"/><rect x="52.10" y="372.40" width="1.6" height="1.6" fill="#25848d"/><rect x="53.90" y="373.90" width="1.6" height="1.6" fill="#2f6b8d"/><rect x="54.60" y="375.70" width="1.6" height="1.6" fill="#44347e"/><rect x="59.00" y="371.00" width="1.6" height="1.6" fill="#414487"/><rect x="57.50" y="373.20" width="1.6" height="1.6" fill="#44347e"/><rect x="61.10" y="373.70" width="1.6" height="1.6" fill="#440154"/><rect x="60.80" y="376.00" width="1.6" height="1.6" fill="#44347e"/><rect x="62.20" y="376.40" width="1.6" height="1.6" fill="#44347e"/><rect x="58.60" y="378.50" width="1.6" height="1.6" fill="#44347e"/><rect x="60.40" y="379.30" width="1.6" height="1.6" fill="#44347e"/><rect x="57.50" y="380.70" width="1.6" height="1.6" fill="#44347e"/><rect x="59.30" y="381.40" width="1.6" height="1.6" fill="#44347e"/><rect x="44.90" y="374.20" width="1.6" height="1.6" fill="#3b518a"/><rect x="42.10" y="374.80" width="1.6" height="1.6" fill="#25848d"/><rect x="43.20" y="375.30" width="1.6" height="1.6" fill="#25848d"/><rect x="43.50" y="376.00" width="1.6" height="1.6" fill="#355f8d"/><rect x="40.70" y="375.60" width="1.6" height="1.6" fill="#482475"/><rect x="46.40" y="377.80" width="1.6" height="1.6" fill="#440154"/><rect x="39.70" y="377.80" width="1.6" height="1.6" fill="#440154"/><rect x="41.30" y="380.80" width="1.6" height="1.6" fill="#440154"/><rect x="44.50" y="380.80" width="1.6" height="1.6" fill="#440154"/><rect x="34.10" y="371.50" width="1.6" height="1.6" fill="#440154"/><rect x="38.00" y="373.10" width="1.6" height="1.6" fill="#44347e"/><rect x="34.20" y="370.90" width="1.6" height="1.6" fill="#440154"/><rect x="34.10" y="380.30" width="1.6" height="1.6" fill="#2a788e"/><rect x="37.10" y="380.00" width="1.6" height="1.6" fill="#25848d"/><rect x="35.50" y="381.70" width="1.6" height="1.6" fill="#44bf70"/><rect x="38.20" y="381.40" width="1.6" height="1.6" fill="#21918c"/><rect x="34.10" y="383.60" width="1.6" height="1.6" fill="#21918c"/><rect x="31.30" y="383.60" width="1.6" height="1.6" fill="#2f6b8d"/><rect x="36.00" y="383.40" width="1.6" height="1.6" fill="#2a788e"/><rect x="30.30" y="383.30" width="1.6" height="1.6" fill="#355f8d"/><rect x="36.90" y="382.20" width="1.6" height="1.6" fill="#9ad83c"/><clipPath id="cp6"><rect x="27.70" y="316.20" width="89.20" height="75.20"/></clipPath><line clip-path="url(#cp6)" x1="27.70" y1="391.60" x2="116.90" y2="316.16" stroke="#F8762A" stroke-width="1.25" stroke-dasharray="3.8 3.79" stroke-dashoffset="3.49"/><rect x="27.70" y="316.20" width="89.20" height="75.20" fill="none" stroke="#2b2b2b" stroke-width="1.15"/><g stroke="#333" stroke-width="0.6"><line x1="31.60" y1="391.40" x2="31.60" y2="393.20"/><line x1="25.90" y1="388.30" x2="27.70" y2="388.30"/><line x1="51.05" y1="391.40" x2="51.05" y2="393.20"/><line x1="25.90" y1="371.85" x2="27.70" y2="371.85"/><line x1="70.50" y1="391.40" x2="70.50" y2="393.20"/><line x1="25.90" y1="355.40" x2="27.70" y2="355.40"/><line x1="89.95" y1="391.40" x2="89.95" y2="393.20"/><line x1="25.90" y1="338.95" x2="27.70" y2="338.95"/><line x1="109.40" y1="391.40" x2="109.40" y2="393.20"/><line x1="25.90" y1="322.50" x2="27.70" y2="322.50"/></g><g font-family="Liberation Serif" font-size="5.75" fill="#444" stroke="#444" stroke-width="0.05"><text transform="translate(31.90,399.10) rotate(0.05) " text-anchor="middle">0</text><text transform="translate(24.20,391.00) rotate(0.05) " text-anchor="end">0</text><text transform="translate(51.35,399.10) rotate(0.05) " text-anchor="middle">100</text><text transform="translate(24.20,374.55) rotate(0.05) " text-anchor="end">100</text><text transform="translate(70.80,399.10) rotate(0.05) " text-anchor="middle">200</text><text transform="translate(24.20,358.10) rotate(0.05) " text-anchor="end">200</text><text transform="translate(90.25,399.10) rotate(0.05) " text-anchor="middle">300</text><text transform="translate(24.20,341.65) rotate(0.05) " text-anchor="end">300</text><text transform="translate(109.70,399.10) rotate(0.05) " text-anchor="middle">400</text><text transform="translate(24.20,325.20) rotate(0.05) " text-anchor="end">400</text></g><text font-family="Liberation Serif" font-size="7.05" transform="translate(72.30,409.00) rotate(0.05) scale(1,1.0)" text-anchor="middle" fill="#000" stroke="#000" stroke-width="0.05">Observed AGB ( Mg ha<tspan font-size="5" dy="-2.8">&#8722;1</tspan><tspan dy="2.8"> )</tspan></text><text font-family="Liberation Serif" font-size="7.05" transform="translate(10.50,353.70) rotate(-89.95) scale(1,1.0)" text-anchor="middle" fill="#000" stroke="#000" stroke-width="0.05">Predicted AGB ( Mg ha<tspan font-size="5" dy="-2.8">&#8722;1</tspan><tspan dy="2.8"> )</tspan></text><text font-family="Liberation Serif" font-size="5.6" font-style="italic" transform="translate(28.90,322.30) rotate(0.05) " fill="#000" stroke="#000" stroke-width="0.06">R<tspan font-size="3.6" dy="-2.0">2</tspan><tspan font-style="normal" dy="2.0"> = 0.46</tspan></text><text font-family="Liberation Serif" font-size="5.6" transform="translate(28.90,328.10) rotate(0.05) " fill="#000" stroke="#000" stroke-width="0.06"><tspan font-style="italic">RMSE</tspan> =50.86</text><text font-family="Liberation Serif" font-size="8.4" font-weight="bold" transform="translate(27.40,296.10) rotate(0.05) scale(1.06,0.95)" fill="#000" stroke="#000" stroke-width="0.15">RF</text><text font-family="Liberation Serif" font-size="4.2" font-weight="bold" transform="translate(32.70,306.40) rotate(0.05) " fill="#000" stroke="#000" stroke-width="0.1">n_neighbors</text><rect x="57.10" y="300.70" width="61.00" height="2.2" fill="url(#vir)"/><clipPath id="lc6"><rect x="27.70" y="303.80" width="93" height="8"/></clipPath><g clip-path="url(#lc6)" font-family="Liberation Serif" font-size="5.8" font-weight="bold" fill="#222"><text transform="translate(57.10,309.10) rotate(0.05) " text-anchor="middle">1</text><text transform="translate(67.27,309.10) rotate(0.05) " text-anchor="middle">2</text><text transform="translate(77.43,309.10) rotate(0.05) " text-anchor="middle">3</text><text transform="translate(87.60,309.10) rotate(0.05) " text-anchor="middle">4</text><text transform="translate(97.77,309.10) rotate(0.05) " text-anchor="middle">5</text><text transform="translate(107.93,309.10) rotate(0.05) " text-anchor="middle">6</text><text transform="translate(118.10,309.10) rotate(0.05) " text-anchor="middle">7</text></g><g stroke="#ececec" stroke-width="0.5"><line x1="151.75" y1="316.20" x2="151.75" y2="391.40"/><line x1="147.85" y1="388.30" x2="237.30" y2="388.30"/><line x1="171.20" y1="316.20" x2="171.20" y2="391.40"/><line x1="147.85" y1="371.85" x2="237.30" y2="371.85"/><line x1="190.65" y1="316.20" x2="190.65" y2="391.40"/><line x1="147.85" y1="355.40" x2="237.30" y2="355.40"/><line x1="210.10" y1="316.20" x2="210.10" y2="391.40"/><line x1="147.85" y1="338.95" x2="237.30" y2="338.95"/><line x1="229.55" y1="316.20" x2="229.55" y2="391.40"/><line x1="147.85" y1="322.50" x2="237.30" y2="322.50"/></g><g stroke="#f4f4f4" stroke-width="0.45"><line x1="161.47" y1="316.20" x2="161.47" y2="391.40"/><line x1="147.85" y1="380.07" x2="237.30" y2="380.07"/><line x1="180.93" y1="316.20" x2="180.93" y2="391.40"/><line x1="147.85" y1="363.62" x2="237.30" y2="363.62"/><line x1="200.38" y1="316.20" x2="200.38" y2="391.40"/><line x1="147.85" y1="347.17" x2="237.30" y2="347.17"/><line x1="219.82" y1="316.20" x2="219.82" y2="391.40"/><line x1="147.85" y1="330.72" x2="237.30" y2="330.72"/></g><rect x="176.60" y="342.40" width="1.6" height="1.6" fill="#440154"/><rect x="213.90" y="341.30" width="1.6" height="1.6" fill="#440154"/><rect x="183.20" y="347.40" width="1.6" height="1.6" fill="#440154"/><rect x="170.80" y="354.80" width="1.6" height="1.6" fill="#440154"/><rect x="172.40" y="360.10" width="1.6" height="1.6" fill="#440154"/><rect x="180.00" y="362.50" width="1.6" height="1.6" fill="#440154"/><rect x="193.20" y="367.70" width="1.6" height="1.6" fill="#440154"/><rect x="169.40" y="363.90" width="1.6" height="1.6" fill="#2f6b8d"/><rect x="171.10" y="363.50" width="1.6" height="1.6" fill="#2f6b8d"/><rect x="171.80" y="364.90" width="1.6" height="1.6" fill="#355f8d"/><rect x="172.70" y="367.20" width="1.6" height="1.6" fill="#355f8d"/><rect x="159.30" y="371.40" width="1.6" height="1.6" fill="#355f8d"/><rect x="157.90" y="372.80" width="1.6" height="1.6" fill="#355f8d"/><rect x="161.10" y="373.90" width="1.6" height="1.6" fill="#21918c"/><rect x="162.80" y="374.20" width="1.6" height="1.6" fill="#21918c"/><rect x="164.80" y="373.90" width="1.6" height="1.6" fill="#25848d"/><rect x="166.20" y="372.50" width="1.6" height="1.6" fill="#25848d"/><rect x="167.60" y="370.40" width="1.6" height="1.6" fill="#355f8d"/><rect x="157.90" y="376.40" width="1.6" height="1.6" fill="#440154"/><rect x="167.20" y="376.40" width="1.6" height="1.6" fill="#440154"/><rect x="165.30" y="379.40" width="1.6" height="1.6" fill="#440154"/><rect x="172.40" y="373.60" width="1.6" height="1.6" fill="#219c88"/><rect x="175.20" y="372.50" width="1.6" height="1.6" fill="#44bf70"/><rect x="179.10" y="373.60" width="1.6" height="1.6" fill="#2a788e"/><rect x="180.70" y="373.60" width="1.6" height="1.6" fill="#2a788e"/><rect x="182.80" y="371.80" width="1.6" height="1.6" fill="#440154"/><rect x="182.10" y="374.20" width="1.6" height="1.6" fill="#440154"/><rect x="180.70" y="376.60" width="1.6" height="1.6" fill="#2f6b8d"/><rect x="180.00" y="379.10" width="1.6" height="1.6" fill="#2f6b8d"/><rect x="178.00" y="381.90" width="1.6" height="1.6" fill="#355f8d"/><rect x="180.00" y="381.90" width="1.6" height="1.6" fill="#355f8d"/><rect x="155.20" y="379.10" width="1.6" height="1.6" fill="#21918c"/><rect x="156.10" y="380.10" width="1.6" height="1.6" fill="#21918c"/><rect x="159.30" y="380.10" width="1.6" height="1.6" fill="#355f8d"/><rect x="154.50" y="382.90" width="1.6" height="1.6" fill="#22a884"/><rect x="156.60" y="383.50" width="1.6" height="1.6" fill="#21918c"/><rect x="151.70" y="385.20" width="1.6" height="1.6" fill="#2a788e"/><rect x="153.80" y="384.60" width="1.6" height="1.6" fill="#21918c"/><rect x="174.50" y="374.60" width="1.6" height="1.6" fill="#dce326"/><rect x="173.80" y="375.50" width="1.6" height="1.6" fill="#dce326"/><clipPath id="cp7"><rect x="147.85" y="316.20" width="89.45" height="75.20"/></clipPath><line clip-path="url(#cp7)" x1="147.85" y1="391.60" x2="237.30" y2="315.95" stroke="#F8762A" stroke-width="1.25" stroke-dasharray="3.8 3.79" stroke-dashoffset="3.49"/><rect x="147.85" y="316.20" width="89.45" height="75.20" fill="none" stroke="#2b2b2b" stroke-width="1.15"/><g stroke="#333" stroke-width="0.6"><line x1="151.75" y1="391.40" x2="151.75" y2="393.20"/><line x1="146.05" y1="388.30" x2="147.85" y2="388.30"/><line x1="171.20" y1="391.40" x2="171.20" y2="393.20"/><line x1="146.05" y1="371.85" x2="147.85" y2="371.85"/><line x1="190.65" y1="391.40" x2="190.65" y2="393.20"/><line x1="146.05" y1="355.40" x2="147.85" y2="355.40"/><line x1="210.10" y1="391.40" x2="210.10" y2="393.20"/><line x1="146.05" y1="338.95" x2="147.85" y2="338.95"/><line x1="229.55" y1="391.40" x2="229.55" y2="393.20"/><line x1="146.05" y1="322.50" x2="147.85" y2="322.50"/></g><g font-family="Liberation Serif" font-size="5.75" fill="#444" stroke="#444" stroke-width="0.05"><text transform="translate(152.05,399.10) rotate(0.05) " text-anchor="middle">0</text><text transform="translate(144.35,391.00) rotate(0.05) " text-anchor="end">0</text><text transform="translate(171.50,399.10) rotate(0.05) " text-anchor="middle">100</text><text transform="translate(144.35,374.55) rotate(0.05) " text-anchor="end">100</text><text transform="translate(190.95,399.10) rotate(0.05) " text-anchor="middle">200</text><text transform="translate(144.35,358.10) rotate(0.05) " text-anchor="end">200</text><text transform="translate(210.40,399.10) rotate(0.05) " text-anchor="middle">300</text><text transform="translate(144.35,341.65) rotate(0.05) " text-anchor="end">300</text><text transform="translate(229.85,399.10) rotate(0.05) " text-anchor="middle">400</text><text transform="translate(144.35,325.20) rotate(0.05) " text-anchor="end">400</text></g><text font-family="Liberation Serif" font-size="7.05" transform="translate(192.57,409.00) rotate(0.05) scale(1,1.0)" text-anchor="middle" fill="#000" stroke="#000" stroke-width="0.05">Observed AGB ( Mg ha<tspan font-size="5" dy="-2.8">&#8722;1</tspan><tspan dy="2.8"> )</tspan></text><text font-family="Liberation Serif" font-size="7.05" transform="translate(130.65,353.70) rotate(-89.95) scale(1,1.0)" text-anchor="middle" fill="#000" stroke="#000" stroke-width="0.05">Predicted AGB ( Mg ha<tspan font-size="5" dy="-2.8">&#8722;1</tspan><tspan dy="2.8"> )</tspan></text><text font-family="Liberation Serif" font-size="5.6" font-style="italic" transform="translate(149.05,322.30) rotate(0.05) " fill="#000" stroke="#000" stroke-width="0.06">R<tspan font-size="3.6" dy="-2.0">2</tspan><tspan font-style="normal" dy="2.0"> = 0.42</tspan></text><text font-family="Liberation Serif" font-size="5.6" transform="translate(149.05,328.10) rotate(0.05) " fill="#000" stroke="#000" stroke-width="0.06"><tspan font-style="italic">RMSE</tspan> =55.93</text><text font-family="Liberation Serif" font-size="8.4" font-weight="bold" transform="translate(147.55,296.10) rotate(0.05) scale(1.06,0.95)" fill="#000" stroke="#000" stroke-width="0.15">k-NN</text><text font-family="Liberation Serif" font-size="4.2" font-weight="bold" transform="translate(152.85,306.40) rotate(0.05) " fill="#000" stroke="#000" stroke-width="0.1">n_neighbors</text><rect x="177.25" y="300.70" width="61.00" height="2.2" fill="url(#vir)"/><clipPath id="lc7"><rect x="147.85" y="303.80" width="93" height="8"/></clipPath><g clip-path="url(#lc7)" font-family="Liberation Serif" font-size="5.8" font-weight="bold" fill="#222"><text transform="translate(177.25,309.10) rotate(0.05) " text-anchor="middle">1</text><text transform="translate(192.50,309.10) rotate(0.05) " text-anchor="middle">2</text><text transform="translate(207.75,309.10) rotate(0.05) " text-anchor="middle">3</text><text transform="translate(223.00,309.10) rotate(0.05) " text-anchor="middle">4</text><text transform="translate(238.25,309.10) rotate(0.05) " text-anchor="middle">5</text></g><g stroke="#ececec" stroke-width="0.5"><line x1="272.20" y1="316.20" x2="272.20" y2="391.40"/><line x1="268.30" y1="388.30" x2="357.40" y2="388.30"/><line x1="291.65" y1="316.20" x2="291.65" y2="391.40"/><line x1="268.30" y1="371.85" x2="357.40" y2="371.85"/><line x1="311.10" y1="316.20" x2="311.10" y2="391.40"/><line x1="268.30" y1="355.40" x2="357.40" y2="355.40"/><line x1="330.55" y1="316.20" x2="330.55" y2="391.40"/><line x1="268.30" y1="338.95" x2="357.40" y2="338.95"/><line x1="350.00" y1="316.20" x2="350.00" y2="391.40"/><line x1="268.30" y1="322.50" x2="357.40" y2="322.50"/></g><g stroke="#f4f4f4" stroke-width="0.45"><line x1="281.93" y1="316.20" x2="281.93" y2="391.40"/><line x1="268.30" y1="380.07" x2="357.40" y2="380.07"/><line x1="301.38" y1="316.20" x2="301.38" y2="391.40"/><line x1="268.30" y1="363.62" x2="357.40" y2="363.62"/><line x1="320.82" y1="316.20" x2="320.82" y2="391.40"/><line x1="268.30" y1="347.17" x2="357.40" y2="347.17"/><line x1="340.27" y1="316.20" x2="340.27" y2="391.40"/><line x1="268.30" y1="330.72" x2="357.40" y2="330.72"/></g><rect x="297.30" y="337.70" width="1.6" height="1.6" fill="#440154"/><rect x="334.90" y="340.80" width="1.6" height="1.6" fill="#440154"/><rect x="291.40" y="352.50" width="1.6" height="1.6" fill="#440154"/><rect x="290.00" y="357.00" width="1.6" height="1.6" fill="#440154"/><rect x="292.80" y="359.00" width="1.6" height="1.6" fill="#440154"/><rect x="304.20" y="357.30" width="1.6" height="1.6" fill="#440154"/><rect x="301.00" y="362.10" width="1.6" height="1.6" fill="#440154"/><rect x="314.20" y="365.60" width="1.6" height="1.6" fill="#440154"/><rect x="291.80" y="363.50" width="1.6" height="1.6" fill="#355f8d"/><rect x="293.20" y="364.20" width="1.6" height="1.6" fill="#355f8d"/><rect x="293.40" y="366.70" width="1.6" height="1.6" fill="#21918c"/><rect x="294.80" y="367.20" width="1.6" height="1.6" fill="#21918c"/><rect x="288.20" y="365.90" width="1.6" height="1.6" fill="#440154"/><rect x="280.30" y="370.40" width="1.6" height="1.6" fill="#440154"/><rect x="278.90" y="372.20" width="1.6" height="1.6" fill="#440154"/><rect x="285.20" y="371.40" width="1.6" height="1.6" fill="#440154"/><rect x="289.30" y="371.40" width="1.6" height="1.6" fill="#440154"/><rect x="286.80" y="373.20" width="1.6" height="1.6" fill="#3b518a"/><rect x="287.90" y="372.50" width="1.6" height="1.6" fill="#3b518a"/><rect x="299.20" y="370.80" width="1.6" height="1.6" fill="#440154"/><rect x="302.80" y="369.50" width="1.6" height="1.6" fill="#440154"/><rect x="294.10" y="373.60" width="1.6" height="1.6" fill="#33b37a"/><rect x="296.20" y="373.20" width="1.6" height="1.6" fill="#33b37a"/><rect x="303.80" y="373.20" width="1.6" height="1.6" fill="#355f8d"/><rect x="302.40" y="374.60" width="1.6" height="1.6" fill="#355f8d"/><rect x="301.00" y="376.60" width="1.6" height="1.6" fill="#355f8d"/><rect x="300.30" y="379.10" width="1.6" height="1.6" fill="#355f8d"/><rect x="299.00" y="380.10" width="1.6" height="1.6" fill="#355f8d"/><rect x="276.20" y="375.20" width="1.6" height="1.6" fill="#440154"/><rect x="283.80" y="375.20" width="1.6" height="1.6" fill="#440154"/><rect x="281.70" y="377.30" width="1.6" height="1.6" fill="#25848d"/><rect x="287.90" y="377.30" width="1.6" height="1.6" fill="#440154"/><rect x="278.90" y="379.70" width="1.6" height="1.6" fill="#21918c"/><rect x="276.20" y="381.50" width="1.6" height="1.6" fill="#21918c"/><rect x="277.60" y="380.80" width="1.6" height="1.6" fill="#21918c"/><rect x="276.90" y="382.90" width="1.6" height="1.6" fill="#9ad83c"/><rect x="279.60" y="382.20" width="1.6" height="1.6" fill="#21918c"/><rect x="273.40" y="384.60" width="1.6" height="1.6" fill="#2f6b8d"/><rect x="278.00" y="385.20" width="1.6" height="1.6" fill="#2f6b8d"/><rect x="285.80" y="383.80" width="1.6" height="1.6" fill="#440154"/><rect x="301.00" y="383.80" width="1.6" height="1.6" fill="#440154"/><rect x="274.80" y="382.90" width="1.6" height="1.6" fill="#FDE725"/><rect x="275.50" y="383.50" width="1.6" height="1.6" fill="#FDE725"/><clipPath id="cp8"><rect x="268.30" y="316.20" width="89.10" height="75.20"/></clipPath><line clip-path="url(#cp8)" x1="268.30" y1="391.60" x2="357.40" y2="316.24" stroke="#F8762A" stroke-width="1.25" stroke-dasharray="3.8 3.79" stroke-dashoffset="3.49"/><rect x="268.30" y="316.20" width="89.10" height="75.20" fill="none" stroke="#2b2b2b" stroke-width="1.15"/><g stroke="#333" stroke-width="0.6"><line x1="272.20" y1="391.40" x2="272.20" y2="393.20"/><line x1="266.50" y1="388.30" x2="268.30" y2="388.30"/><line x1="291.65" y1="391.40" x2="291.65" y2="393.20"/><line x1="266.50" y1="371.85" x2="268.30" y2="371.85"/><line x1="311.10" y1="391.40" x2="311.10" y2="393.20"/><line x1="266.50" y1="355.40" x2="268.30" y2="355.40"/><line x1="330.55" y1="391.40" x2="330.55" y2="393.20"/><line x1="266.50" y1="338.95" x2="268.30" y2="338.95"/><line x1="350.00" y1="391.40" x2="350.00" y2="393.20"/><line x1="266.50" y1="322.50" x2="268.30" y2="322.50"/></g><g font-family="Liberation Serif" font-size="5.75" fill="#444" stroke="#444" stroke-width="0.05"><text transform="translate(272.50,399.10) rotate(0.05) " text-anchor="middle">0</text><text transform="translate(264.80,391.00) rotate(0.05) " text-anchor="end">0</text><text transform="translate(291.95,399.10) rotate(0.05) " text-anchor="middle">100</text><text transform="translate(264.80,374.55) rotate(0.05) " text-anchor="end">100</text><text transform="translate(311.40,399.10) rotate(0.05) " text-anchor="middle">200</text><text transform="translate(264.80,358.10) rotate(0.05) " text-anchor="end">200</text><text transform="translate(330.85,399.10) rotate(0.05) " text-anchor="middle">300</text><text transform="translate(264.80,341.65) rotate(0.05) " text-anchor="end">300</text><text transform="translate(350.30,399.10) rotate(0.05) " text-anchor="middle">400</text><text transform="translate(264.80,325.20) rotate(0.05) " text-anchor="end">400</text></g><text font-family="Liberation Serif" font-size="7.05" transform="translate(312.85,409.00) rotate(0.05) scale(1,1.0)" text-anchor="middle" fill="#000" stroke="#000" stroke-width="0.05">Observed AGB ( Mg ha<tspan font-size="5" dy="-2.8">&#8722;1</tspan><tspan dy="2.8"> )</tspan></text><text font-family="Liberation Serif" font-size="7.05" transform="translate(251.90,353.70) rotate(-89.95) scale(1,1.0)" text-anchor="middle" fill="#000" stroke="#000" stroke-width="0.05">Predicted AGB ( Mg ha<tspan font-size="5" dy="-2.8">&#8722;1</tspan><tspan dy="2.8"> )</tspan></text><text font-family="Liberation Serif" font-size="5.6" font-style="italic" transform="translate(269.50,322.30) rotate(0.05) " fill="#000" stroke="#000" stroke-width="0.06">R<tspan font-size="3.6" dy="-2.0">2</tspan><tspan font-style="normal" dy="2.0"> = 0.50</tspan></text><text font-family="Liberation Serif" font-size="5.6" transform="translate(269.50,328.10) rotate(0.05) " fill="#000" stroke="#000" stroke-width="0.06"><tspan font-style="italic">RMSE</tspan> =52.74</text><text font-family="Liberation Serif" font-size="8.4" font-weight="bold" transform="translate(268.00,296.10) rotate(0.05) scale(1.06,0.95)" fill="#000" stroke="#000" stroke-width="0.15">GBM</text><text font-family="Liberation Serif" font-size="4.2" font-weight="bold" transform="translate(273.30,306.40) rotate(0.05) " fill="#000" stroke="#000" stroke-width="0.1">n_neighbors</text><rect x="297.70" y="300.70" width="61.00" height="2.2" fill="url(#vir)"/><clipPath id="lc8"><rect x="268.30" y="303.80" width="93" height="8"/></clipPath><g clip-path="url(#lc8)" font-family="Liberation Serif" font-size="5.8" font-weight="bold" fill="#222"><text transform="translate(297.70,309.10) rotate(0.05) " text-anchor="middle">1</text><text transform="translate(312.95,309.10) rotate(0.05) " text-anchor="middle">2</text><text transform="translate(328.20,309.10) rotate(0.05) " text-anchor="middle">3</text><text transform="translate(343.45,309.10) rotate(0.05) " text-anchor="middle">4</text><text transform="translate(358.70,309.10) rotate(0.05) " text-anchor="middle">5</text></g><g stroke="#ececec" stroke-width="0.5"><line x1="31.60" y1="452.80" x2="31.60" y2="528.00"/><line x1="27.70" y1="524.90" x2="116.90" y2="524.90"/><line x1="51.05" y1="452.80" x2="51.05" y2="528.00"/><line x1="27.70" y1="508.45" x2="116.90" y2="508.45"/><line x1="70.50" y1="452.80" x2="70.50" y2="528.00"/><line x1="27.70" y1="492.00" x2="116.90" y2="492.00"/><line x1="89.95" y1="452.80" x2="89.95" y2="528.00"/><line x1="27.70" y1="475.55" x2="116.90" y2="475.55"/><line x1="109.40" y1="452.80" x2="109.40" y2="528.00"/><line x1="27.70" y1="459.10" x2="116.90" y2="459.10"/></g><g stroke="#f4f4f4" stroke-width="0.45"><line x1="41.32" y1="452.80" x2="41.32" y2="528.00"/><line x1="27.70" y1="516.67" x2="116.90" y2="516.67"/><line x1="60.77" y1="452.80" x2="60.77" y2="528.00"/><line x1="27.70" y1="500.22" x2="116.90" y2="500.22"/><line x1="80.22" y1="452.80" x2="80.22" y2="528.00"/><line x1="27.70" y1="483.77" x2="116.90" y2="483.77"/><line x1="99.67" y1="452.80" x2="99.67" y2="528.00"/><line x1="27.70" y1="467.32" x2="116.90" y2="467.32"/></g><rect x="92.90" y="488.00" width="1.6" height="1.6" fill="#440154"/><rect x="48.30" y="497.80" width="1.6" height="1.6" fill="#440154"/><rect x="45.30" y="501.60" width="1.6" height="1.6" fill="#440154"/><rect x="51.10" y="502.30" width="1.6" height="1.6" fill="#25848d"/><rect x="51.80" y="503.70" width="1.6" height="1.6" fill="#25848d"/><rect x="50.40" y="503.30" width="1.6" height="1.6" fill="#25848d"/><rect x="55.90" y="499.60" width="1.6" height="1.6" fill="#440154"/><rect x="53.80" y="501.60" width="1.6" height="1.6" fill="#482475"/><rect x="72.50" y="500.50" width="1.6" height="1.6" fill="#440154"/><rect x="39.70" y="506.90" width="1.6" height="1.6" fill="#440154"/><rect x="46.60" y="508.50" width="1.6" height="1.6" fill="#355f8d"/><rect x="45.50" y="509.20" width="1.6" height="1.6" fill="#355f8d"/><rect x="51.80" y="507.20" width="1.6" height="1.6" fill="#21918c"/><rect x="52.40" y="508.30" width="1.6" height="1.6" fill="#21918c"/><rect x="59.30" y="506.90" width="1.6" height="1.6" fill="#440154"/><rect x="62.40" y="506.90" width="1.6" height="1.6" fill="#440154"/><rect x="59.30" y="509.20" width="1.6" height="1.6" fill="#440154"/><rect x="47.60" y="510.60" width="1.6" height="1.6" fill="#440154"/><rect x="34.20" y="511.00" width="1.6" height="1.6" fill="#440154"/><rect x="37.50" y="511.00" width="1.6" height="1.6" fill="#440154"/><rect x="41.10" y="510.20" width="1.6" height="1.6" fill="#2f6b8d"/><rect x="42.10" y="511.60" width="1.6" height="1.6" fill="#2f6b8d"/><rect x="54.50" y="512.00" width="1.6" height="1.6" fill="#440154"/><rect x="57.30" y="513.00" width="1.6" height="1.6" fill="#440154"/><rect x="61.40" y="512.00" width="1.6" height="1.6" fill="#482475"/><rect x="62.80" y="511.30" width="1.6" height="1.6" fill="#482475"/><rect x="46.60" y="513.80" width="1.6" height="1.6" fill="#440154"/><rect x="60.50" y="515.20" width="1.6" height="1.6" fill="#25848d"/><rect x="59.30" y="516.20" width="1.6" height="1.6" fill="#25848d"/><rect x="57.70" y="518.20" width="1.6" height="1.6" fill="#355f8d"/><rect x="59.30" y="517.50" width="1.6" height="1.6" fill="#355f8d"/><rect x="41.40" y="516.80" width="1.6" height="1.6" fill="#440154"/><rect x="44.20" y="517.90" width="1.6" height="1.6" fill="#440154"/><rect x="37.90" y="517.50" width="1.6" height="1.6" fill="#2f6b8d"/><rect x="38.60" y="516.80" width="1.6" height="1.6" fill="#25848d"/><rect x="34.80" y="518.90" width="1.6" height="1.6" fill="#44bf70"/><rect x="33.80" y="520.70" width="1.6" height="1.6" fill="#21918c"/><rect x="32.40" y="521.20" width="1.6" height="1.6" fill="#2f6b8d"/><rect x="31.00" y="522.10" width="1.6" height="1.6" fill="#2f6b8d"/><rect x="37.00" y="518.50" width="1.6" height="1.6" fill="#7ad151"/><rect x="35.90" y="519.30" width="1.6" height="1.6" fill="#9ad83c"/><clipPath id="cp9"><rect x="27.70" y="452.80" width="89.20" height="75.20"/></clipPath><line clip-path="url(#cp9)" x1="27.70" y1="528.20" x2="116.90" y2="452.76" stroke="#F8762A" stroke-width="1.25" stroke-dasharray="3.8 3.79" stroke-dashoffset="3.49"/><rect x="27.70" y="452.80" width="89.20" height="75.20" fill="none" stroke="#2b2b2b" stroke-width="1.15"/><g stroke="#333" stroke-width="0.6"><line x1="31.60" y1="528.00" x2="31.60" y2="529.80"/><line x1="25.90" y1="524.90" x2="27.70" y2="524.90"/><line x1="51.05" y1="528.00" x2="51.05" y2="529.80"/><line x1="25.90" y1="508.45" x2="27.70" y2="508.45"/><line x1="70.50" y1="528.00" x2="70.50" y2="529.80"/><line x1="25.90" y1="492.00" x2="27.70" y2="492.00"/><line x1="89.95" y1="528.00" x2="89.95" y2="529.80"/><line x1="25.90" y1="475.55" x2="27.70" y2="475.55"/><line x1="109.40" y1="528.00" x2="109.40" y2="529.80"/><line x1="25.90" y1="459.10" x2="27.70" y2="459.10"/></g><g font-family="Liberation Serif" font-size="5.75" fill="#444" stroke="#444" stroke-width="0.05"><text transform="translate(31.90,535.70) rotate(0.05) " text-anchor="middle">0</text><text transform="translate(24.20,527.60) rotate(0.05) " text-anchor="end">0</text><text transform="translate(51.35,535.70) rotate(0.05) " text-anchor="middle">100</text><text transform="translate(24.20,511.15) rotate(0.05) " text-anchor="end">100</text><text transform="translate(70.80,535.70) rotate(0.05) " text-anchor="middle">200</text><text transform="translate(24.20,494.70) rotate(0.05) " text-anchor="end">200</text><text transform="translate(90.25,535.70) rotate(0.05) " text-anchor="middle">300</text><text transform="translate(24.20,478.25) rotate(0.05) " text-anchor="end">300</text><text transform="translate(109.70,535.70) rotate(0.05) " text-anchor="middle">400</text><text transform="translate(24.20,461.80) rotate(0.05) " text-anchor="end">400</text></g><text font-family="Liberation Serif" font-size="7.05" transform="translate(72.30,545.60) rotate(0.05) scale(1,1.0)" text-anchor="middle" fill="#000" stroke="#000" stroke-width="0.05">Observed AGB ( Mg ha<tspan font-size="5" dy="-2.8">&#8722;1</tspan><tspan dy="2.8"> )</tspan></text><text font-family="Liberation Serif" font-size="7.05" transform="translate(10.50,490.30) rotate(-89.95) scale(1,1.0)" text-anchor="middle" fill="#000" stroke="#000" stroke-width="0.05">Predicted AGB ( Mg ha<tspan font-size="5" dy="-2.8">&#8722;1</tspan><tspan dy="2.8"> )</tspan></text><text font-family="Liberation Serif" font-size="5.6" font-style="italic" transform="translate(28.90,458.90) rotate(0.05) " fill="#000" stroke="#000" stroke-width="0.06">R<tspan font-size="3.6" dy="-2.0">2</tspan><tspan font-style="normal" dy="2.0"> = 0.49</tspan></text><text font-family="Liberation Serif" font-size="5.6" transform="translate(28.90,464.70) rotate(0.05) " fill="#000" stroke="#000" stroke-width="0.06"><tspan font-style="italic">RMSE</tspan> =51.42</text><text font-family="Liberation Serif" font-size="8.4" font-weight="bold" transform="translate(27.40,432.80) rotate(0.05) scale(1.06,0.95)" fill="#000" stroke="#000" stroke-width="0.15">BRNN</text><text font-family="Liberation Serif" font-size="4.2" font-weight="bold" transform="translate(32.70,443.10) rotate(0.05) " fill="#000" stroke="#000" stroke-width="0.1">n_neighbors</text><rect x="57.10" y="437.40" width="61.00" height="2.2" fill="url(#vir)"/><clipPath id="lc9"><rect x="27.70" y="440.50" width="93" height="8"/></clipPath><g clip-path="url(#lc9)" font-family="Liberation Serif" font-size="5.8" font-weight="bold" fill="#222"><text transform="translate(65.81,445.80) rotate(0.05) " text-anchor="middle">2</text><text transform="translate(83.24,445.80) rotate(0.05) " text-anchor="middle">4</text><text transform="translate(100.67,445.80) rotate(0.05) " text-anchor="middle">6</text><text transform="translate(118.10,445.80) rotate(0.05) " text-anchor="middle">8</text></g><g stroke="#ececec" stroke-width="0.5"><line x1="151.75" y1="452.80" x2="151.75" y2="528.00"/><line x1="147.85" y1="524.90" x2="237.30" y2="524.90"/><line x1="171.20" y1="452.80" x2="171.20" y2="528.00"/><line x1="147.85" y1="508.45" x2="237.30" y2="508.45"/><line x1="190.65" y1="452.80" x2="190.65" y2="528.00"/><line x1="147.85" y1="492.00" x2="237.30" y2="492.00"/><line x1="210.10" y1="452.80" x2="210.10" y2="528.00"/><line x1="147.85" y1="475.55" x2="237.30" y2="475.55"/><line x1="229.55" y1="452.80" x2="229.55" y2="528.00"/><line x1="147.85" y1="459.10" x2="237.30" y2="459.10"/></g><g stroke="#f4f4f4" stroke-width="0.45"><line x1="161.47" y1="452.80" x2="161.47" y2="528.00"/><line x1="147.85" y1="516.67" x2="237.30" y2="516.67"/><line x1="180.93" y1="452.80" x2="180.93" y2="528.00"/><line x1="147.85" y1="500.22" x2="237.30" y2="500.22"/><line x1="200.38" y1="452.80" x2="200.38" y2="528.00"/><line x1="147.85" y1="483.77" x2="237.30" y2="483.77"/><line x1="219.82" y1="452.80" x2="219.82" y2="528.00"/><line x1="147.85" y1="467.32" x2="237.30" y2="467.32"/></g><rect x="193.20" y="482.70" width="1.6" height="1.6" fill="#440154"/><rect x="213.90" y="482.30" width="1.6" height="1.6" fill="#440154"/><rect x="183.20" y="487.50" width="1.6" height="1.6" fill="#440154"/><rect x="176.60" y="494.10" width="1.6" height="1.6" fill="#440154"/><rect x="170.80" y="495.10" width="1.6" height="1.6" fill="#440154"/><rect x="170.80" y="499.20" width="1.6" height="1.6" fill="#440154"/><rect x="166.60" y="503.00" width="1.6" height="1.6" fill="#482475"/><rect x="169.00" y="506.10" width="1.6" height="1.6" fill="#440154"/><rect x="171.80" y="502.00" width="1.6" height="1.6" fill="#25848d"/><rect x="172.20" y="503.80" width="1.6" height="1.6" fill="#25848d"/><rect x="172.70" y="505.40" width="1.6" height="1.6" fill="#25848d"/><rect x="173.10" y="507.50" width="1.6" height="1.6" fill="#25848d"/><rect x="173.80" y="508.90" width="1.6" height="1.6" fill="#2a788e"/><rect x="174.50" y="510.30" width="1.6" height="1.6" fill="#2f6b8d"/><rect x="175.20" y="512.10" width="1.6" height="1.6" fill="#355f8d"/><rect x="179.30" y="507.10" width="1.6" height="1.6" fill="#440154"/><rect x="182.40" y="509.30" width="1.6" height="1.6" fill="#440154"/><rect x="178.20" y="510.70" width="1.6" height="1.6" fill="#440154"/><rect x="181.40" y="512.30" width="1.6" height="1.6" fill="#482475"/><rect x="183.20" y="513.00" width="1.6" height="1.6" fill="#482475"/><rect x="155.20" y="507.50" width="1.6" height="1.6" fill="#440154"/><rect x="158.60" y="508.90" width="1.6" height="1.6" fill="#482475"/><rect x="165.50" y="510.70" width="1.6" height="1.6" fill="#440154"/><rect x="162.80" y="511.70" width="1.6" height="1.6" fill="#25848d"/><rect x="163.90" y="512.30" width="1.6" height="1.6" fill="#25848d"/><rect x="161.10" y="513.00" width="1.6" height="1.6" fill="#355f8d"/><rect x="166.90" y="515.10" width="1.6" height="1.6" fill="#440154"/><rect x="160.00" y="515.40" width="1.6" height="1.6" fill="#440154"/><rect x="162.50" y="518.20" width="1.6" height="1.6" fill="#440154"/><rect x="165.30" y="518.20" width="1.6" height="1.6" fill="#440154"/><rect x="154.80" y="517.20" width="1.6" height="1.6" fill="#440154"/><rect x="158.40" y="517.20" width="1.6" height="1.6" fill="#482475"/><rect x="179.30" y="516.20" width="1.6" height="1.6" fill="#2a788e"/><rect x="180.00" y="517.20" width="1.6" height="1.6" fill="#2a788e"/><rect x="178.70" y="517.60" width="1.6" height="1.6" fill="#2a788e"/><rect x="157.90" y="518.20" width="1.6" height="1.6" fill="#21918c"/><rect x="157.20" y="519.30" width="1.6" height="1.6" fill="#21918c"/><rect x="154.50" y="520.60" width="1.6" height="1.6" fill="#33b37a"/><rect x="153.10" y="520.60" width="1.6" height="1.6" fill="#21918c"/><rect x="152.00" y="521.30" width="1.6" height="1.6" fill="#2f6b8d"/><rect x="155.90" y="519.30" width="1.6" height="1.6" fill="#FDE725"/><rect x="156.60" y="520.00" width="1.6" height="1.6" fill="#FDE725"/><clipPath id="cp10"><rect x="147.85" y="452.80" width="89.45" height="75.20"/></clipPath><line clip-path="url(#cp10)" x1="147.85" y1="528.20" x2="237.30" y2="452.55" stroke="#F8762A" stroke-width="1.25" stroke-dasharray="3.8 3.79" stroke-dashoffset="3.49"/><rect x="147.85" y="452.80" width="89.45" height="75.20" fill="none" stroke="#2b2b2b" stroke-width="1.15"/><g stroke="#333" stroke-width="0.6"><line x1="151.75" y1="528.00" x2="151.75" y2="529.80"/><line x1="146.05" y1="524.90" x2="147.85" y2="524.90"/><line x1="171.20" y1="528.00" x2="171.20" y2="529.80"/><line x1="146.05" y1="508.45" x2="147.85" y2="508.45"/><line x1="190.65" y1="528.00" x2="190.65" y2="529.80"/><line x1="146.05" y1="492.00" x2="147.85" y2="492.00"/><line x1="210.10" y1="528.00" x2="210.10" y2="529.80"/><line x1="146.05" y1="475.55" x2="147.85" y2="475.55"/><line x1="229.55" y1="528.00" x2="229.55" y2="529.80"/><line x1="146.05" y1="459.10" x2="147.85" y2="459.10"/></g><g font-family="Liberation Serif" font-size="5.75" fill="#444" stroke="#444" stroke-width="0.05"><text transform="translate(152.05,535.70) rotate(0.05) " text-anchor="middle">0</text><text transform="translate(144.35,527.60) rotate(0.05) " text-anchor="end">0</text><text transform="translate(171.50,535.70) rotate(0.05) " text-anchor="middle">100</text><text transform="translate(144.35,511.15) rotate(0.05) " text-anchor="end">100</text><text transform="translate(190.95,535.70) rotate(0.05) " text-anchor="middle">200</text><text transform="translate(144.35,494.70) rotate(0.05) " text-anchor="end">200</text><text transform="translate(210.40,535.70) rotate(0.05) " text-anchor="middle">300</text><text transform="translate(144.35,478.25) rotate(0.05) " text-anchor="end">300</text><text transform="translate(229.85,535.70) rotate(0.05) " text-anchor="middle">400</text><text transform="translate(144.35,461.80) rotate(0.05) " text-anchor="end">400</text></g><text font-family="Liberation Serif" font-size="7.05" transform="translate(192.57,545.60) rotate(0.05) scale(1,1.0)" text-anchor="middle" fill="#000" stroke="#000" stroke-width="0.05">Observed AGB ( Mg ha<tspan font-size="5" dy="-2.8">&#8722;1</tspan><tspan dy="2.8"> )</tspan></text><text font-family="Liberation Serif" font-size="7.05" transform="translate(130.65,490.30) rotate(-89.95) scale(1,1.0)" text-anchor="middle" fill="#000" stroke="#000" stroke-width="0.05">Predicted AGB ( Mg ha<tspan font-size="5" dy="-2.8">&#8722;1</tspan><tspan dy="2.8"> )</tspan></text><text font-family="Liberation Serif" font-size="5.6" font-style="italic" transform="translate(149.05,458.90) rotate(0.05) " fill="#000" stroke="#000" stroke-width="0.06">R<tspan font-size="3.6" dy="-2.0">2</tspan><tspan font-style="normal" dy="2.0"> = 0.56</tspan></text><text font-family="Liberation Serif" font-size="5.6" transform="translate(149.05,464.70) rotate(0.05) " fill="#000" stroke="#000" stroke-width="0.06"><tspan font-style="italic">RMSE</tspan> =47.79</text><text font-family="Liberation Serif" font-size="8.4" font-weight="bold" transform="translate(147.55,432.80) rotate(0.05) scale(1.06,0.95)" fill="#000" stroke="#000" stroke-width="0.15">RRF</text><text font-family="Liberation Serif" font-size="4.2" font-weight="bold" transform="translate(152.85,443.10) rotate(0.05) " fill="#000" stroke="#000" stroke-width="0.1">n_neighbors</text><rect x="177.25" y="437.40" width="61.00" height="2.2" fill="url(#vir)"/><clipPath id="lc10"><rect x="147.85" y="440.50" width="93" height="8"/></clipPath><g clip-path="url(#lc10)" font-family="Liberation Serif" font-size="5.8" font-weight="bold" fill="#222"><text transform="translate(177.25,445.80) rotate(0.05) " text-anchor="middle">1</text><text transform="translate(187.42,445.80) rotate(0.05) " text-anchor="middle">2</text><text transform="translate(197.58,445.80) rotate(0.05) " text-anchor="middle">3</text><text transform="translate(207.75,445.80) rotate(0.05) " text-anchor="middle">4</text><text transform="translate(217.92,445.80) rotate(0.05) " text-anchor="middle">5</text><text transform="translate(228.08,445.80) rotate(0.05) " text-anchor="middle">6</text><text transform="translate(238.25,445.80) rotate(0.05) " text-anchor="middle">7</text></g><g stroke="#ececec" stroke-width="0.5"><line x1="272.20" y1="452.80" x2="272.20" y2="528.00"/><line x1="268.30" y1="524.90" x2="357.40" y2="524.90"/><line x1="291.65" y1="452.80" x2="291.65" y2="528.00"/><line x1="268.30" y1="508.45" x2="357.40" y2="508.45"/><line x1="311.10" y1="452.80" x2="311.10" y2="528.00"/><line x1="268.30" y1="492.00" x2="357.40" y2="492.00"/><line x1="330.55" y1="452.80" x2="330.55" y2="528.00"/><line x1="268.30" y1="475.55" x2="357.40" y2="475.55"/><line x1="350.00" y1="452.80" x2="350.00" y2="528.00"/><line x1="268.30" y1="459.10" x2="357.40" y2="459.10"/></g><g stroke="#f4f4f4" stroke-width="0.45"><line x1="281.93" y1="452.80" x2="281.93" y2="528.00"/><line x1="268.30" y1="516.67" x2="357.40" y2="516.67"/><line x1="301.38" y1="452.80" x2="301.38" y2="528.00"/><line x1="268.30" y1="500.22" x2="357.40" y2="500.22"/><line x1="320.82" y1="452.80" x2="320.82" y2="528.00"/><line x1="268.30" y1="483.77" x2="357.40" y2="483.77"/><line x1="340.27" y1="452.80" x2="340.27" y2="528.00"/><line x1="268.30" y1="467.32" x2="357.40" y2="467.32"/></g><rect x="297.30" y="479.00" width="1.6" height="1.6" fill="#440154"/><rect x="304.20" y="482.20" width="1.6" height="1.6" fill="#440154"/><rect x="334.40" y="482.30" width="1.6" height="1.6" fill="#440154"/><rect x="314.20" y="499.30" width="1.6" height="1.6" fill="#440154"/><rect x="290.40" y="499.80" width="1.6" height="1.6" fill="#482475"/><rect x="291.80" y="499.30" width="1.6" height="1.6" fill="#482475"/><rect x="291.80" y="501.80" width="1.6" height="1.6" fill="#440154"/><rect x="301.00" y="499.10" width="1.6" height="1.6" fill="#440154"/><rect x="302.40" y="501.10" width="1.6" height="1.6" fill="#440154"/><rect x="288.20" y="506.20" width="1.6" height="1.6" fill="#440154"/><rect x="292.80" y="504.90" width="1.6" height="1.6" fill="#21918c"/><rect x="292.80" y="508.70" width="1.6" height="1.6" fill="#21918c"/><rect x="295.50" y="510.40" width="1.6" height="1.6" fill="#355f8d"/><rect x="300.30" y="510.80" width="1.6" height="1.6" fill="#440154"/><rect x="299.20" y="512.60" width="1.6" height="1.6" fill="#482475"/><rect x="303.40" y="512.60" width="1.6" height="1.6" fill="#25848d"/><rect x="302.40" y="514.00" width="1.6" height="1.6" fill="#25848d"/><rect x="296.20" y="514.30" width="1.6" height="1.6" fill="#440154"/><rect x="301.00" y="517.30" width="1.6" height="1.6" fill="#25848d"/><rect x="299.70" y="517.70" width="1.6" height="1.6" fill="#2f6b8d"/><rect x="275.80" y="511.20" width="1.6" height="1.6" fill="#440154"/><rect x="279.40" y="512.60" width="1.6" height="1.6" fill="#2f6b8d"/><rect x="280.30" y="512.60" width="1.6" height="1.6" fill="#2f6b8d"/><rect x="283.80" y="512.60" width="1.6" height="1.6" fill="#25848d"/><rect x="285.20" y="512.20" width="1.6" height="1.6" fill="#2a788e"/><rect x="286.50" y="511.50" width="1.6" height="1.6" fill="#25848d"/><rect x="287.20" y="510.40" width="1.6" height="1.6" fill="#25848d"/><rect x="282.40" y="514.30" width="1.6" height="1.6" fill="#25848d"/><rect x="281.00" y="515.90" width="1.6" height="1.6" fill="#440154"/><rect x="288.20" y="515.40" width="1.6" height="1.6" fill="#440154"/><rect x="276.20" y="517.30" width="1.6" height="1.6" fill="#355f8d"/><rect x="278.90" y="518.10" width="1.6" height="1.6" fill="#355f8d"/><rect x="283.50" y="518.10" width="1.6" height="1.6" fill="#440154"/><rect x="286.30" y="518.10" width="1.6" height="1.6" fill="#440154"/><rect x="278.00" y="519.80" width="1.6" height="1.6" fill="#21918c"/><rect x="276.90" y="520.50" width="1.6" height="1.6" fill="#21918c"/><rect x="274.80" y="521.20" width="1.6" height="1.6" fill="#44bf70"/><rect x="273.40" y="521.40" width="1.6" height="1.6" fill="#44bf70"/><rect x="275.50" y="520.50" width="1.6" height="1.6" fill="#9ad83c"/><rect x="272.00" y="521.80" width="1.6" height="1.6" fill="#2a788e"/><rect x="293.40" y="507.10" width="1.6" height="1.6" fill="#9ad83c"/><rect x="294.10" y="508.00" width="1.6" height="1.6" fill="#9ad83c"/><clipPath id="cp11"><rect x="268.30" y="452.80" width="89.10" height="75.20"/></clipPath><line clip-path="url(#cp11)" x1="268.30" y1="528.20" x2="357.40" y2="452.84" stroke="#F8762A" stroke-width="1.25" stroke-dasharray="3.8 3.79" stroke-dashoffset="3.49"/><rect x="268.30" y="452.80" width="89.10" height="75.20" fill="none" stroke="#2b2b2b" stroke-width="1.15"/><g stroke="#333" stroke-width="0.6"><line x1="272.20" y1="528.00" x2="272.20" y2="529.80"/><line x1="266.50" y1="524.90" x2="268.30" y2="524.90"/><line x1="291.65" y1="528.00" x2="291.65" y2="529.80"/><line x1="266.50" y1="508.45" x2="268.30" y2="508.45"/><line x1="311.10" y1="528.00" x2="311.10" y2="529.80"/><line x1="266.50" y1="492.00" x2="268.30" y2="492.00"/><line x1="330.55" y1="528.00" x2="330.55" y2="529.80"/><line x1="266.50" y1="475.55" x2="268.30" y2="475.55"/><line x1="350.00" y1="528.00" x2="350.00" y2="529.80"/><line x1="266.50" y1="459.10" x2="268.30" y2="459.10"/></g><g font-family="Liberation Serif" font-size="5.75" fill="#444" stroke="#444" stroke-width="0.05"><text transform="translate(272.50,535.70) rotate(0.05) " text-anchor="middle">0</text><text transform="translate(264.80,527.60) rotate(0.05) " text-anchor="end">0</text><text transform="translate(291.95,535.70) rotate(0.05) " text-anchor="middle">100</text><text transform="translate(264.80,511.15) rotate(0.05) " text-anchor="end">100</text><text transform="translate(311.40,535.70) rotate(0.05) " text-anchor="middle">200</text><text transform="translate(264.80,494.70) rotate(0.05) " text-anchor="end">200</text><text transform="translate(330.85,535.70) rotate(0.05) " text-anchor="middle">300</text><text transform="translate(264.80,478.25) rotate(0.05) " text-anchor="end">300</text><text transform="translate(350.30,535.70) rotate(0.05) " text-anchor="middle">400</text><text transform="translate(264.80,461.80) rotate(0.05) " text-anchor="end">400</text></g><text font-family="Liberation Serif" font-size="7.05" transform="translate(312.85,545.60) rotate(0.05) scale(1,1.0)" text-anchor="middle" fill="#000" stroke="#000" stroke-width="0.05">Observed AGB ( Mg ha<tspan font-size="5" dy="-2.8">&#8722;1</tspan><tspan dy="2.8"> )</tspan></text><text font-family="Liberation Serif" font-size="7.05" transform="translate(251.90,490.30) rotate(-89.95) scale(1,1.0)" text-anchor="middle" fill="#000" stroke="#000" stroke-width="0.05">Predicted AGB ( Mg ha<tspan font-size="5" dy="-2.8">&#8722;1</tspan><tspan dy="2.8"> )</tspan></text><text font-family="Liberation Serif" font-size="5.6" font-style="italic" transform="translate(269.50,458.90) rotate(0.05) " fill="#000" stroke="#000" stroke-width="0.06">R<tspan font-size="3.6" dy="-2.0">2</tspan><tspan font-style="normal" dy="2.0"> = 0.52</tspan></text><text font-family="Liberation Serif" font-size="5.6" transform="translate(269.50,464.70) rotate(0.05) " fill="#000" stroke="#000" stroke-width="0.06"><tspan font-style="italic">RMSE</tspan> =49.36</text><text font-family="Liberation Serif" font-size="8.4" font-weight="bold" transform="translate(268.00,432.80) rotate(0.05) scale(1.06,0.95)" fill="#000" stroke="#000" stroke-width="0.15">QRF</text><text font-family="Liberation Serif" font-size="4.2" font-weight="bold" transform="translate(273.30,443.10) rotate(0.05) " fill="#000" stroke="#000" stroke-width="0.1">n_neighbors</text><rect x="297.70" y="437.40" width="61.00" height="2.2" fill="url(#vir)"/><clipPath id="lc11"><rect x="268.30" y="440.50" width="93" height="8"/></clipPath><g clip-path="url(#lc11)" font-family="Liberation Serif" font-size="5.8" font-weight="bold" fill="#222"><text transform="translate(297.70,445.80) rotate(0.05) " text-anchor="middle">1</text><text transform="translate(307.87,445.80) rotate(0.05) " text-anchor="middle">2</text><text transform="translate(318.03,445.80) rotate(0.05) " text-anchor="middle">3</text><text transform="translate(328.20,445.80) rotate(0.05) " text-anchor="middle">4</text><text transform="translate(338.37,445.80) rotate(0.05) " text-anchor="middle">5</text><text transform="translate(348.53,445.80) rotate(0.05) " text-anchor="middle">6</text><text transform="translate(358.70,445.80) rotate(0.05) " text-anchor="middle">7</text></g>
</g>
</svg>
</body></html>
